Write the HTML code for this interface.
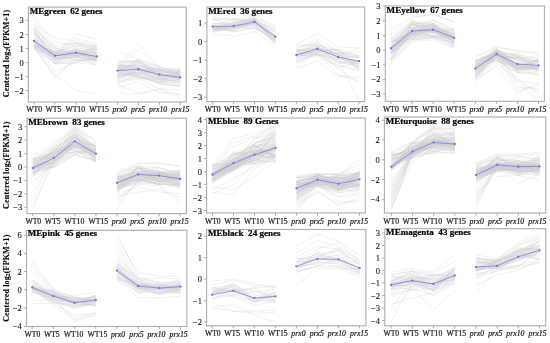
<!DOCTYPE html>
<html><head><meta charset="utf-8"><title>Module expression profiles</title>
<style>html,body{margin:0;padding:0;background:#fff}svg{display:block}text{font-family:"Liberation Serif","DejaVu Serif",serif;fill:#111;stroke:#111;stroke-width:.18px}.tk{font-size:8.5px;stroke-width:.1px}.xl{font-size:7.7px}.xi{font-style:italic;font-size:7.75px}.tt{font-size:9.05px;font-weight:bold;fill:#000;stroke:#000;stroke-width:.22px}.yl{font-size:8.05px;font-weight:bold;text-anchor:middle;fill:#000;letter-spacing:.16px;stroke-width:.12px}.g path{fill:none;stroke:#d0d0d0;stroke-width:.32;stroke-linejoin:round}.m{fill:none;stroke:#7a7af1;stroke-width:.8}.d{fill:#6e6ef2}.fr{fill:#fff;stroke:#adadad;stroke-width:1.1}.tm{stroke:#a2a2a2;stroke-width:.9}</style></head><body>
<svg width="550" height="343" viewBox="0 0 550 343">
<rect width="550" height="343" fill="#fff"/>
<g id="p0">
<clipPath id="c0"><rect x="28.4" y="7.1" width="157.8" height="94.9"/></clipPath>
<rect class="fr" x="28.4" y="7.1" width="157.8" height="94.9"/>
<g class="g" clip-path="url(#c0)">
<path d="M34.1,38.3 55.0,61.9 75.9,52.9 96.8,59.1M117.6,79.8 138.5,69.8 159.4,81.9 180.3,79.0"/>
<path d="M34.1,46.5 55.0,59.8 75.9,52.3 96.8,49.3M117.6,75.8 138.5,72.1 159.4,71.3 180.3,69.7"/>
<path d="M34.1,32.9 55.0,63.8 75.9,49.4 96.8,61.9M117.6,80.5 138.5,78.2 159.4,79.8 180.3,75.3"/>
<path d="M34.1,47.7 55.0,55.9 75.9,51.9 96.8,59.6M117.6,71.4 138.5,77.8 159.4,82.2 180.3,82.9"/>
<path d="M34.1,45.4 55.0,55.8 75.9,54.8 96.8,60.5M117.6,67.5 138.5,67.2 159.4,79.5 180.3,77.5"/>
<path d="M34.1,43.5 55.0,53.3 75.9,51.9 96.8,62.1M117.6,66.3 138.5,78.4 159.4,78.3 180.3,76.3"/>
<path d="M34.1,46.5 55.0,51.9 75.9,45.8 96.8,53.1M117.6,63.3 138.5,70.1 159.4,70.0 180.3,74.2"/>
<path d="M34.1,34.1 55.0,54.0 75.9,43.6 96.8,46.0M117.6,68.3 138.5,63.3 159.4,78.3 180.3,71.9"/>
<path d="M34.1,41.6 55.0,63.3 75.9,60.2 96.8,59.2M117.6,82.6 138.5,75.8 159.4,83.8 180.3,86.6"/>
<path d="M34.1,42.0 55.0,55.1 75.9,49.3 96.8,45.7M117.6,72.7 138.5,64.9 159.4,69.5 180.3,68.3"/>
<path d="M34.1,29.5 55.0,49.4 75.9,54.4 96.8,56.0M117.6,71.0 138.5,60.7 159.4,66.4 180.3,80.7"/>
<path d="M34.1,44.3 55.0,55.2 75.9,50.1 96.8,59.0M117.6,78.7 138.5,69.5 159.4,75.5 180.3,75.5"/>
<path d="M34.1,25.8 55.0,51.6 75.9,50.3 96.8,52.4M117.6,66.2 138.5,74.5 159.4,67.2 180.3,71.6"/>
<path d="M34.1,37.4 55.0,54.0 75.9,55.2 96.8,50.2M117.6,74.3 138.5,72.3 159.4,75.2 180.3,78.7"/>
<path d="M34.1,47.6 55.0,64.1 75.9,62.8 96.8,64.8M117.6,82.6 138.5,75.4 159.4,83.8 180.3,75.5"/>
<path d="M34.1,46.4 55.0,58.8 75.9,56.1 96.8,63.0M117.6,66.7 138.5,62.2 159.4,76.2 180.3,78.7"/>
<path d="M34.1,49.0 55.0,61.8 75.9,56.3 96.8,60.8M117.6,66.8 138.5,75.9 159.4,82.5 180.3,72.0"/>
<path d="M34.1,42.0 55.0,63.3 75.9,53.9 96.8,50.2M117.6,66.8 138.5,67.6 159.4,79.5 180.3,80.8"/>
<path d="M34.1,46.8 55.0,52.4 75.9,52.5 96.8,52.1M117.6,74.1 138.5,74.0 159.4,70.4 180.3,70.8"/>
<path d="M34.1,27.1 55.0,49.8 75.9,53.8 96.8,52.7M117.6,69.6 138.5,73.5 159.4,78.3 180.3,77.5"/>
<path d="M34.1,49.5 55.0,56.9 75.9,49.6 96.8,61.1M117.6,68.2 138.5,65.6 159.4,72.0 180.3,83.3"/>
<path d="M34.1,45.6 55.0,59.3 75.9,50.1 96.8,49.3M117.6,65.3 138.5,69.1 159.4,72.0 180.3,72.8"/>
<path d="M34.1,45.6 55.0,51.9 75.9,43.1 96.8,49.5M117.6,65.0 138.5,67.3 159.4,77.2 180.3,71.4"/>
<path d="M34.1,33.0 55.0,59.3 75.9,56.9 96.8,51.8M117.6,69.8 138.5,77.4 159.4,82.4 180.3,84.8"/>
<path d="M34.1,24.1 55.0,47.8 75.9,53.6 96.8,46.0M117.6,61.2 138.5,61.5 159.4,72.4 180.3,72.4"/>
<path d="M34.1,28.0 55.0,53.5 75.9,51.9 96.8,48.8M117.6,71.4 138.5,62.5 159.4,69.6 180.3,81.2"/>
<path d="M34.1,44.7 55.0,58.2 75.9,56.4 96.8,54.7M117.6,74.6 138.5,70.1 159.4,79.5 180.3,71.2"/>
<path d="M34.1,41.7 55.0,52.1 75.9,56.0 96.8,51.6M117.6,73.0 138.5,70.7 159.4,76.0 180.3,86.2"/>
<path d="M34.1,38.1 55.0,57.7 75.9,57.9 96.8,48.6M117.6,73.6 138.5,66.8 159.4,69.0 180.3,74.2"/>
<path d="M34.1,41.8 55.0,53.4 75.9,60.6 96.8,57.2M117.6,77.3 138.5,74.6 159.4,72.2 180.3,78.7"/>
<path d="M34.1,33.9 55.0,49.6 75.9,41.9 96.8,54.0M117.6,66.0 138.5,65.6 159.4,71.5 180.3,71.7"/>
<path d="M34.1,45.0 55.0,52.9 75.9,53.1 96.8,54.0M117.6,67.4 138.5,76.8 159.4,76.9 180.3,74.3"/>
<path d="M34.1,30.2 55.0,59.6 75.9,57.6 96.8,56.3M117.6,77.3 138.5,72.3 159.4,79.7 180.3,74.0"/>
<path d="M34.1,45.2 55.0,51.8 75.9,48.4 96.8,60.3M117.6,63.8 138.5,59.8 159.4,77.3 180.3,69.7"/>
<path d="M34.1,32.7 55.0,53.7 75.9,60.8 96.8,60.0M117.6,73.6 138.5,74.7 159.4,81.5 180.3,82.5"/>
<path d="M34.1,31.7 55.0,60.3 75.9,49.5 96.8,55.3M117.6,77.2 138.5,69.8 159.4,70.9 180.3,75.3"/>
<path d="M34.1,27.7 55.0,47.3 75.9,55.5 96.8,56.8M117.6,75.1 138.5,60.8 159.4,74.7 180.3,79.5"/>
<path d="M34.1,41.8 55.0,63.7 75.9,62.8 96.8,55.7M117.6,76.2 138.5,72.0 159.4,83.8 180.3,86.6"/>
<path d="M34.1,30.8 55.0,54.2 75.9,56.3 96.8,45.8M117.6,65.8 138.5,60.7 159.4,77.7 180.3,69.5"/>
<path d="M34.1,33.0 55.0,53.3 75.9,45.7 96.8,45.7M117.6,68.9 138.5,69.5 159.4,69.2 180.3,76.1"/>
<path d="M34.1,44.9 55.0,58.2 75.9,57.4 96.8,58.5M117.6,71.2 138.5,69.8 159.4,68.7 180.3,78.1"/>
<path d="M34.1,45.5 55.0,63.5 75.9,58.5 96.8,65.0M117.6,68.9 138.5,70.3 159.4,80.7 180.3,79.4"/>
<path d="M34.1,29.5 55.0,60.9 75.9,47.1 96.8,57.5M117.6,70.7 138.5,63.5 159.4,76.1 180.3,77.2"/>
<path d="M34.1,47.0 55.0,54.1 75.9,52.7 96.8,57.5M117.6,76.3 138.5,75.1 159.4,83.8 180.3,85.7"/>
<path d="M34.1,39.9 55.0,56.5 75.9,54.8 96.8,46.0M117.6,61.2 138.5,61.5 159.4,73.6 180.3,77.0"/>
<path d="M34.1,42.1 55.0,54.6 75.9,56.0 96.8,55.2M117.6,72.5 138.5,59.1 159.4,66.0 180.3,74.8"/>
<path d="M34.1,15.6 55.0,42.3 75.9,45.1 96.8,49.4M117.6,64.8 138.5,66.2 159.4,73.2 180.3,74.6"/>
<path d="M34.1,19.8 55.0,46.5 75.9,42.3 96.8,48.0M117.6,63.4 138.5,60.6 159.4,70.4 180.3,73.2"/>
<path d="M34.1,24.1 55.0,38.1 75.9,40.9 96.8,45.1M117.6,69.0 138.5,70.4 159.4,74.6 180.3,78.9"/>
<path d="M34.1,45.1 55.0,78.9 75.9,57.8 96.8,60.6M117.6,76.0 138.5,73.2 159.4,78.9 180.3,81.7"/>
<path d="M34.1,48.0 55.0,76.0 75.9,59.2 96.8,63.4M117.6,74.6 138.5,71.8 159.4,77.5 180.3,83.1"/>
<path d="M34.1,42.3 55.0,71.8 75.9,62.0 96.8,59.2M117.6,78.9 138.5,76.0 159.4,80.3 180.3,80.3"/>
<path d="M34.1,46.5 55.0,74.6 75.9,90.1 96.8,94.3M117.6,67.6 138.5,64.8 159.4,70.4 180.3,73.2"/>
<path d="M34.1,49.4 55.0,55.0 75.9,33.9 96.8,39.5M117.6,66.2 138.5,69.0 159.4,74.6 180.3,76.0"/>
<path d="M34.1,43.7 55.0,53.6 75.9,38.1 96.8,43.7M117.6,70.4 138.5,67.6 159.4,71.8 180.3,74.6"/>
<path d="M34.1,39.5 55.0,57.8 75.9,55.0 96.8,59.2M117.6,50.8 138.5,59.2 159.4,69.0 180.3,71.8"/>
<path d="M34.1,45.1 55.0,56.4 75.9,52.2 96.8,55.0M117.6,66.2 138.5,43.7 159.4,67.6 180.3,70.4"/>
<path d="M34.1,40.9 55.0,59.2 75.9,53.6 96.8,57.8M117.6,69.0 138.5,49.4 159.4,69.0 180.3,74.6"/>
<path d="M34.1,38.1 55.0,55.0 75.9,56.4 96.8,60.6M117.6,92.9 138.5,94.3 159.4,88.7 180.3,90.1"/>
<path d="M34.1,43.7 55.0,53.6 75.9,50.8 96.8,53.6M117.6,87.3 138.5,81.7 159.4,92.9 180.3,94.3"/>
<path d="M34.1,36.7 55.0,56.4 75.9,52.2 96.8,57.8M117.6,84.5 138.5,92.9 159.4,90.1 180.3,98.5"/>
<path d="M34.1,42.3 55.0,57.8 75.9,55.0 96.8,56.4M117.6,83.1 138.5,78.9 159.4,88.7 180.3,95.7"/>
</g>
<polyline class="m" points="34.1,40.9 55.0,55.8 75.9,52.7 96.8,56.5"/>
<polyline class="m" points="117.6,70.6 138.5,69.2 159.4,74.5 180.3,77.3"/>
<circle class="d" cx="34.1" cy="40.9" r="1.15"/>
<circle class="d" cx="55.0" cy="55.8" r="1.15"/>
<circle class="d" cx="75.9" cy="52.7" r="1.15"/>
<circle class="d" cx="96.8" cy="56.5" r="1.15"/>
<circle class="d" cx="117.6" cy="70.6" r="1.15"/>
<circle class="d" cx="138.5" cy="69.2" r="1.15"/>
<circle class="d" cx="159.4" cy="74.5" r="1.15"/>
<circle class="d" cx="180.3" cy="77.3" r="1.15"/>
<line class="tm" x1="25.8" x2="28.4" y1="20.4" y2="20.4"/>
<text class="tk" text-anchor="end" x="23.7" y="23.4">3</text>
<line class="tm" x1="25.8" x2="28.4" y1="34.5" y2="34.5"/>
<text class="tk" text-anchor="end" x="23.7" y="37.5">2</text>
<line class="tm" x1="25.8" x2="28.4" y1="48.5" y2="48.5"/>
<text class="tk" text-anchor="end" x="23.7" y="51.5">1</text>
<line class="tm" x1="25.8" x2="28.4" y1="62.5" y2="62.5"/>
<text class="tk" text-anchor="end" x="23.7" y="65.5">0</text>
<line class="tm" x1="25.8" x2="28.4" y1="76.5" y2="76.5"/>
<text class="tk" text-anchor="end" x="23.7" y="79.5">−1</text>
<line class="tm" x1="25.8" x2="28.4" y1="90.5" y2="90.5"/>
<text class="tk" text-anchor="end" x="23.7" y="93.5">−2</text>
<line class="tm" x1="34.1" x2="34.1" y1="102.0" y2="104.7"/>
<text class="xl" x="26.2" y="112.4">WT0</text>
<line class="tm" x1="55.0" x2="55.0" y1="102.0" y2="104.7"/>
<text class="xl" x="45.6" y="112.4">WT5</text>
<line class="tm" x1="75.9" x2="75.9" y1="102.0" y2="104.7"/>
<text class="xl" x="65.4" y="112.4">WT10</text>
<line class="tm" x1="96.8" x2="96.8" y1="102.0" y2="104.7"/>
<text class="xl" x="89.3" y="112.4">WT15</text>
<line class="tm" x1="117.6" x2="117.6" y1="102.0" y2="104.7"/>
<text class="xl xi" x="112.6" y="112.4">prx0</text>
<line class="tm" x1="138.5" x2="138.5" y1="102.0" y2="104.7"/>
<text class="xl xi" x="131.0" y="112.4">prx5</text>
<line class="tm" x1="159.4" x2="159.4" y1="102.0" y2="104.7"/>
<text class="xl xi" x="149.1" y="112.4">prx10</text>
<line class="tm" x1="180.3" x2="180.3" y1="102.0" y2="104.7"/>
<text class="xl xi" x="171.3" y="112.4">prx15</text>
<text class="tt" x="29.7" y="14.1" xml:space="preserve">MEgreen  62 genes</text>
<text class="yl" transform="translate(8.8,53.5) rotate(-90)">Centered log<tspan font-size="5.2" dy="1.3">2</tspan><tspan dy="-1.3">(FPKM+1)</tspan></text>
</g>
<g id="p1">
<clipPath id="c1"><rect x="206.9" y="7.0" width="157.8" height="94.6"/></clipPath>
<rect class="fr" x="206.9" y="7.0" width="157.8" height="94.6"/>
<g class="g" clip-path="url(#c1)">
<path d="M212.7,28.6 233.6,27.7 254.5,28.3 275.4,38.2M296.4,55.1 317.3,48.7 338.2,61.7 359.1,60.7"/>
<path d="M212.7,29.6 233.6,25.7 254.5,26.0 275.4,41.4M296.4,55.8 317.3,50.6 338.2,53.3 359.1,57.7"/>
<path d="M212.7,23.2 233.6,24.4 254.5,19.8 275.4,30.4M296.4,56.8 317.3,51.3 338.2,49.4 359.1,68.8"/>
<path d="M212.7,32.3 233.6,23.0 254.5,18.5 275.4,35.4M296.4,52.1 317.3,45.6 338.2,63.8 359.1,61.6"/>
<path d="M212.7,29.6 233.6,25.5 254.5,21.7 275.4,35.8M296.4,58.2 317.3,47.4 338.2,58.5 359.1,62.9"/>
<path d="M212.7,30.7 233.6,27.8 254.5,27.1 275.4,31.1M296.4,54.0 317.3,47.3 338.2,54.9 359.1,57.5"/>
<path d="M212.7,26.1 233.6,31.6 254.5,18.5 275.4,31.8M296.4,54.2 317.3,47.9 338.2,53.8 359.1,69.7"/>
<path d="M212.7,31.6 233.6,29.2 254.5,19.8 275.4,41.1M296.4,51.5 317.3,43.1 338.2,57.3 359.1,64.0"/>
<path d="M212.7,28.5 233.6,25.8 254.5,20.8 275.4,37.2M296.4,55.0 317.3,56.7 338.2,65.4 359.1,69.8"/>
<path d="M212.7,25.8 233.6,32.2 254.5,27.8 275.4,40.1M296.4,52.5 317.3,46.6 338.2,54.4 359.1,66.0"/>
<path d="M212.7,28.2 233.6,28.6 254.5,24.6 275.4,44.5M296.4,51.5 317.3,55.2 338.2,52.1 359.1,55.8"/>
<path d="M212.7,19.5 233.6,19.1 254.5,20.4 275.4,37.1M296.4,56.3 317.3,40.8 338.2,58.3 359.1,55.5"/>
<path d="M212.7,30.4 233.6,25.7 254.5,17.2 275.4,41.6M296.4,49.8 317.3,48.6 338.2,50.6 359.1,56.8"/>
<path d="M212.7,26.1 233.6,31.4 254.5,27.8 275.4,36.1M296.4,55.0 317.3,51.0 338.2,62.3 359.1,63.6"/>
<path d="M212.7,33.9 233.6,25.1 254.5,20.1 275.4,44.2M296.4,50.8 317.3,48.1 338.2,53.1 359.1,69.1"/>
<path d="M212.7,23.8 233.6,23.7 254.5,15.5 275.4,29.7M296.4,52.0 317.3,45.6 338.2,55.3 359.1,63.8"/>
<path d="M212.7,25.6 233.6,19.1 254.5,21.6 275.4,35.8M296.4,50.4 317.3,49.2 338.2,54.4 359.1,48.7"/>
<path d="M212.7,18.6 233.6,20.4 254.5,18.5 275.4,26.3M296.4,45.3 317.3,45.6 338.2,50.3 359.1,66.4"/>
<path d="M212.7,23.5 233.6,24.9 254.5,25.1 275.4,43.5M296.4,48.9 317.3,54.3 338.2,57.8 359.1,65.1"/>
<path d="M212.7,31.3 233.6,25.9 254.5,19.3 275.4,43.1M296.4,55.9 317.3,54.5 338.2,59.5 359.1,68.1"/>
<path d="M212.7,29.3 233.6,21.1 254.5,21.5 275.4,39.9M296.4,48.0 317.3,42.0 338.2,56.9 359.1,67.9"/>
<path d="M212.7,29.0 233.6,29.9 254.5,22.8 275.4,41.2M296.4,57.8 317.3,50.9 338.2,54.4 359.1,51.7"/>
<path d="M212.7,27.6 233.6,25.9 254.5,23.6 275.4,39.1M296.4,62.5 317.3,52.0 338.2,49.8 359.1,69.5"/>
<path d="M212.7,28.8 233.6,27.0 254.5,20.3 275.4,43.6M296.4,62.3 317.3,55.0 338.2,62.0 359.1,66.7"/>
<path d="M212.7,18.1 233.6,27.7 254.5,23.5 275.4,27.4M296.4,45.3 317.3,44.8 338.2,50.1 359.1,64.4"/>
<path d="M212.7,29.0 233.6,22.6 254.5,19.8 275.4,32.6M296.4,49.4 317.3,53.8 338.2,65.4 359.1,71.2"/>
<path d="M212.7,24.5 233.6,27.0 254.5,23.8 275.4,37.1M296.4,60.6 317.3,52.1 338.2,67.9 359.1,61.2"/>
<path d="M212.7,30.1 233.6,22.0 254.5,21.0 275.4,40.1M296.4,62.1 317.3,52.9 338.2,55.5 359.1,58.1"/>
<path d="M212.7,25.5 233.6,24.7 254.5,22.8 275.4,39.9M296.4,52.6 317.3,54.8 338.2,59.4 359.1,60.8"/>
<path d="M212.7,19.9 233.6,24.1 254.5,17.6 275.4,36.4M296.4,58.7 317.3,51.8 338.2,49.1 359.1,56.3"/>
<path d="M212.7,16.9 233.6,18.8 254.5,16.0 275.4,25.1M296.4,44.2 317.3,33.3 338.2,47.0 359.1,47.9"/>
<path d="M212.7,34.2 233.6,36.0 254.5,31.5 275.4,47.0M296.4,68.8 317.3,60.6 338.2,76.1 359.1,77.9"/>
<path d="M212.7,28.8 233.6,26.9 254.5,23.3 275.4,37.9M296.4,56.1 317.3,50.6 338.2,59.7 359.1,101.6"/>
<path d="M212.7,30.6 233.6,28.8 254.5,21.5 275.4,39.7M296.4,59.7 317.3,54.2 338.2,74.3 359.1,81.5"/>
<path d="M212.7,25.1 233.6,25.1 254.5,19.7 275.4,36.0M296.4,50.6 317.3,37.9 338.2,52.4 359.1,57.9"/>
<path d="M212.7,26.9 233.6,30.6 254.5,25.1 275.4,41.5M296.4,67.0 317.3,52.4 338.2,68.8 359.1,83.4"/>
</g>
<polyline class="m" points="212.7,26.6 233.6,26.2 254.5,22.0 275.4,36.8"/>
<polyline class="m" points="296.4,55.0 317.3,49.0 338.2,57.0 359.1,61.2"/>
<circle class="d" cx="212.7" cy="26.6" r="1.15"/>
<circle class="d" cx="233.6" cy="26.2" r="1.15"/>
<circle class="d" cx="254.5" cy="22.0" r="1.15"/>
<circle class="d" cx="275.4" cy="36.8" r="1.15"/>
<circle class="d" cx="296.4" cy="55.0" r="1.15"/>
<circle class="d" cx="317.3" cy="49.0" r="1.15"/>
<circle class="d" cx="338.2" cy="57.0" r="1.15"/>
<circle class="d" cx="359.1" cy="61.2" r="1.15"/>
<line class="tm" x1="204.3" x2="206.9" y1="23.2" y2="23.2"/>
<text class="tk" text-anchor="end" x="202.2" y="26.2">1</text>
<line class="tm" x1="204.3" x2="206.9" y1="41.7" y2="41.7"/>
<text class="tk" text-anchor="end" x="202.2" y="44.7">0</text>
<line class="tm" x1="204.3" x2="206.9" y1="60.2" y2="60.2"/>
<text class="tk" text-anchor="end" x="202.2" y="63.2">−1</text>
<line class="tm" x1="204.3" x2="206.9" y1="78.7" y2="78.7"/>
<text class="tk" text-anchor="end" x="202.2" y="81.7">−2</text>
<line class="tm" x1="204.3" x2="206.9" y1="97.2" y2="97.2"/>
<text class="tk" text-anchor="end" x="202.2" y="100.2">−3</text>
<line class="tm" x1="212.7" x2="212.7" y1="101.6" y2="104.3"/>
<text class="xl" x="204.7" y="112.4">WT0</text>
<line class="tm" x1="233.6" x2="233.6" y1="101.6" y2="104.3"/>
<text class="xl" x="224.1" y="112.4">WT5</text>
<line class="tm" x1="254.5" x2="254.5" y1="101.6" y2="104.3"/>
<text class="xl" x="243.9" y="112.4">WT10</text>
<line class="tm" x1="275.4" x2="275.4" y1="101.6" y2="104.3"/>
<text class="xl" x="267.8" y="112.4">WT15</text>
<line class="tm" x1="296.4" x2="296.4" y1="101.6" y2="104.3"/>
<text class="xl xi" x="291.1" y="112.4">prx0</text>
<line class="tm" x1="317.3" x2="317.3" y1="101.6" y2="104.3"/>
<text class="xl xi" x="309.5" y="112.4">prx5</text>
<line class="tm" x1="338.2" x2="338.2" y1="101.6" y2="104.3"/>
<text class="xl xi" x="327.6" y="112.4">prx10</text>
<line class="tm" x1="359.1" x2="359.1" y1="101.6" y2="104.3"/>
<text class="xl xi" x="349.8" y="112.4">prx15</text>
<text class="tt" x="208.2" y="13.8" xml:space="preserve">MEred  36 genes</text>
</g>
<g id="p2">
<clipPath id="c2"><rect x="385.3" y="6.0" width="159.1" height="95.3"/></clipPath>
<rect class="fr" x="385.3" y="6.0" width="159.1" height="95.3"/>
<g class="g" clip-path="url(#c2)">
<path d="M391.0,48.6 412.1,28.4 433.1,30.9 454.2,41.3M475.3,66.6 496.4,50.5 517.4,67.8 538.5,72.3"/>
<path d="M391.0,50.6 412.1,31.7 433.1,26.4 454.2,41.4M475.3,64.1 496.4,51.7 517.4,63.4 538.5,69.1"/>
<path d="M391.0,40.4 412.1,32.5 433.1,31.2 454.2,31.0M475.3,69.3 496.4,48.7 517.4,61.6 538.5,67.6"/>
<path d="M391.0,54.0 412.1,32.6 433.1,27.7 454.2,31.1M475.3,75.0 496.4,55.7 517.4,68.2 538.5,58.6"/>
<path d="M391.0,55.7 412.1,32.0 433.1,23.2 454.2,31.0M475.3,65.0 496.4,49.4 517.4,56.7 538.5,67.3"/>
<path d="M391.0,53.2 412.1,22.8 433.1,25.3 454.2,43.6M475.3,65.8 496.4,55.0 517.4,65.1 538.5,67.1"/>
<path d="M391.0,52.3 412.1,32.9 433.1,22.9 454.2,42.9M475.3,62.3 496.4,57.4 517.4,65.8 538.5,60.3"/>
<path d="M391.0,42.8 412.1,31.8 433.1,35.2 454.2,38.0M475.3,70.5 496.4,50.3 517.4,67.9 538.5,67.2"/>
<path d="M391.0,49.3 412.1,25.1 433.1,25.2 454.2,43.6M475.3,75.7 496.4,58.6 517.4,56.9 538.5,68.4"/>
<path d="M391.0,44.7 412.1,24.8 433.1,32.1 454.2,41.3M475.3,62.9 496.4,53.4 517.4,67.5 538.5,62.5"/>
<path d="M391.0,58.6 412.1,27.8 433.1,24.5 454.2,36.6M475.3,63.5 496.4,60.1 517.4,68.3 538.5,66.7"/>
<path d="M391.0,38.5 412.1,20.9 433.1,29.3 454.2,39.3M475.3,67.7 496.4,53.0 517.4,55.2 538.5,67.9"/>
<path d="M391.0,41.4 412.1,24.7 433.1,26.6 454.2,38.7M475.3,69.9 496.4,54.6 517.4,58.1 538.5,70.0"/>
<path d="M391.0,59.4 412.1,31.7 433.1,36.6 454.2,46.7M475.3,79.2 496.4,56.9 517.4,70.2 538.5,62.5"/>
<path d="M391.0,59.7 412.1,39.3 433.1,37.8 454.2,43.1M475.3,71.4 496.4,59.0 517.4,72.4 538.5,72.1"/>
<path d="M391.0,47.7 412.1,28.8 433.1,30.2 454.2,45.9M475.3,66.8 496.4,58.8 517.4,65.9 538.5,70.2"/>
<path d="M391.0,47.7 412.1,37.5 433.1,35.4 454.2,44.0M475.3,77.6 496.4,52.5 517.4,65.6 538.5,70.7"/>
<path d="M391.0,42.3 412.1,29.5 433.1,20.2 454.2,29.5M475.3,60.0 496.4,54.6 517.4,58.8 538.5,55.5"/>
<path d="M391.0,52.6 412.1,30.8 433.1,31.6 454.2,38.9M475.3,60.0 496.4,51.4 517.4,54.0 538.5,63.8"/>
<path d="M391.0,48.2 412.1,36.3 433.1,37.3 454.2,38.9M475.3,67.4 496.4,61.3 517.4,67.4 538.5,68.8"/>
<path d="M391.0,54.3 412.1,34.4 433.1,32.3 454.2,35.6M475.3,66.1 496.4,57.1 517.4,69.9 538.5,67.4"/>
<path d="M391.0,42.5 412.1,32.9 433.1,29.8 454.2,39.4M475.3,62.2 496.4,52.2 517.4,67.4 538.5,68.6"/>
<path d="M391.0,49.3 412.1,38.8 433.1,36.4 454.2,37.7M475.3,73.3 496.4,58.7 517.4,69.0 538.5,61.3"/>
<path d="M391.0,49.1 412.1,27.5 433.1,29.6 454.2,36.7M475.3,61.7 496.4,48.5 517.4,63.9 538.5,67.6"/>
<path d="M391.0,57.8 412.1,24.5 433.1,30.9 454.2,32.9M475.3,70.5 496.4,50.9 517.4,64.8 538.5,70.5"/>
<path d="M391.0,59.6 412.1,32.1 433.1,29.5 454.2,33.3M475.3,77.5 496.4,54.3 517.4,67.4 538.5,67.2"/>
<path d="M391.0,46.4 412.1,22.2 433.1,33.4 454.2,36.4M475.3,63.3 496.4,49.2 517.4,66.8 538.5,69.4"/>
<path d="M391.0,39.0 412.1,20.8 433.1,28.1 454.2,42.3M475.3,61.2 496.4,54.1 517.4,55.8 538.5,61.6"/>
<path d="M391.0,42.8 412.1,34.0 433.1,30.2 454.2,31.4M475.3,63.5 496.4,57.1 517.4,67.1 538.5,66.1"/>
<path d="M391.0,49.9 412.1,33.9 433.1,35.7 454.2,42.7M475.3,67.0 496.4,51.6 517.4,71.3 538.5,65.9"/>
<path d="M391.0,42.7 412.1,36.0 433.1,28.2 454.2,36.9M475.3,66.9 496.4,56.3 517.4,65.1 538.5,64.1"/>
<path d="M391.0,50.7 412.1,29.3 433.1,31.0 454.2,39.4M475.3,77.3 496.4,53.6 517.4,64.9 538.5,70.0"/>
<path d="M391.0,48.6 412.1,34.9 433.1,29.7 454.2,42.8M475.3,74.3 496.4,54.7 517.4,69.0 538.5,65.8"/>
<path d="M391.0,54.3 412.1,39.3 433.1,32.1 454.2,46.7M475.3,70.2 496.4,54.8 517.4,68.2 538.5,74.7"/>
<path d="M391.0,44.0 412.1,38.1 433.1,27.2 454.2,32.8M475.3,68.0 496.4,53.1 517.4,70.4 538.5,60.8"/>
<path d="M391.0,48.6 412.1,23.4 433.1,23.6 454.2,42.5M475.3,64.8 496.4,50.4 517.4,69.8 538.5,67.6"/>
<path d="M391.0,41.8 412.1,33.9 433.1,25.0 454.2,42.7M475.3,68.5 496.4,50.4 517.4,67.8 538.5,68.8"/>
<path d="M391.0,50.3 412.1,34.9 433.1,37.0 454.2,43.8M475.3,76.0 496.4,51.3 517.4,63.0 538.5,61.0"/>
<path d="M391.0,52.4 412.1,27.8 433.1,25.3 454.2,37.4M475.3,61.4 496.4,52.3 517.4,60.2 538.5,57.0"/>
<path d="M391.0,50.2 412.1,20.1 433.1,23.5 454.2,34.8M475.3,60.7 496.4,53.7 517.4,54.0 538.5,59.7"/>
<path d="M391.0,53.2 412.1,37.9 433.1,29.1 454.2,46.7M475.3,67.1 496.4,59.2 517.4,65.0 538.5,61.1"/>
<path d="M391.0,42.8 412.1,24.0 433.1,28.8 454.2,41.2M475.3,72.2 496.4,55.3 517.4,58.3 538.5,62.6"/>
<path d="M391.0,55.7 412.1,35.0 433.1,27.9 454.2,44.9M475.3,77.3 496.4,56.2 517.4,69.6 538.5,67.9"/>
<path d="M391.0,46.2 412.1,34.4 433.1,27.3 454.2,37.5M475.3,74.0 496.4,49.9 517.4,66.9 538.5,69.9"/>
<path d="M391.0,51.2 412.1,24.5 433.1,20.6 454.2,29.3M475.3,66.6 496.4,54.1 517.4,67.2 538.5,59.3"/>
<path d="M391.0,48.7 412.1,33.9 433.1,25.7 454.2,36.6M475.3,75.5 496.4,52.1 517.4,72.1 538.5,67.3"/>
<path d="M391.0,51.3 412.1,35.3 433.1,36.1 454.2,34.4M475.3,77.8 496.4,54.4 517.4,58.2 538.5,71.5"/>
<path d="M391.0,46.9 412.1,27.3 433.1,23.9 454.2,41.2M475.3,70.4 496.4,55.5 517.4,68.9 538.5,58.1"/>
<path d="M391.0,39.6 412.1,23.2 433.1,32.8 454.2,28.3M475.3,62.0 496.4,52.3 517.4,56.4 538.5,62.3"/>
<path d="M391.0,53.0 412.1,36.8 433.1,31.6 454.2,33.6M475.3,65.8 496.4,51.0 517.4,60.5 538.5,68.6"/>
<path d="M391.0,46.0 412.1,30.7 433.1,24.1 454.2,36.0M475.3,71.0 496.4,52.2 517.4,55.4 538.5,68.2"/>
<path d="M391.0,52.3 412.1,34.2 433.1,25.7 454.2,30.3M475.3,65.0 496.4,55.9 517.4,57.7 538.5,67.5"/>
<path d="M391.0,53.6 412.1,24.5 433.1,28.1 454.2,35.0M475.3,66.7 496.4,50.1 517.4,64.8 538.5,60.5"/>
<path d="M391.0,51.7 412.1,29.4 433.1,30.3 454.2,42.1M475.3,75.4 496.4,54.2 517.4,71.1 538.5,60.9"/>
<path d="M391.0,60.2 412.1,39.3 433.1,37.8 454.2,36.6M475.3,77.0 496.4,61.3 517.4,72.4 538.5,74.7"/>
<path d="M391.0,46.7 412.1,28.7 433.1,36.4 454.2,37.8M475.3,72.4 496.4,52.2 517.4,60.6 538.5,60.8"/>
<path d="M391.0,60.2 412.1,29.2 433.1,27.3 454.2,34.7M475.3,79.2 496.4,60.2 517.4,72.4 538.5,74.7"/>
<path d="M391.0,42.8 412.1,22.1 433.1,24.8 454.2,37.9M475.3,71.9 496.4,56.4 517.4,56.9 538.5,66.7"/>
<path d="M391.0,29.8 412.1,16.6 433.1,15.1 454.2,21.0M475.3,57.8 496.4,46.0 517.4,51.9 538.5,53.3"/>
<path d="M391.0,34.2 412.1,18.1 433.1,13.6 454.2,22.5M475.3,56.3 496.4,47.5 517.4,50.4 538.5,52.6"/>
<path d="M391.0,64.4 412.1,41.6 433.1,40.1 454.2,48.9M475.3,82.0 496.4,63.6 517.4,79.8 538.5,84.2"/>
<path d="M391.0,62.2 412.1,40.1 433.1,38.6 454.2,47.5M475.3,79.8 496.4,66.6 517.4,93.0 538.5,82.7"/>
<path d="M391.0,50.4 412.1,32.8 433.1,31.3 454.2,38.6M475.3,69.5 496.4,54.8 517.4,87.2 538.5,88.6"/>
<path d="M391.0,47.5 412.1,29.8 433.1,28.4 454.2,37.2M475.3,66.6 496.4,53.3 517.4,82.7 538.5,100.4"/>
<path d="M391.0,46.0 412.1,34.2 433.1,32.8 454.2,40.1M475.3,71.0 496.4,56.3 517.4,78.3 538.5,94.5"/>
<path d="M391.0,48.9 412.1,28.4 433.1,26.9 454.2,35.7M475.3,65.1 496.4,51.9 517.4,81.3 538.5,91.6"/>
<path d="M391.0,53.3 412.1,35.7 433.1,29.8 454.2,41.6M475.3,72.4 496.4,57.8 517.4,90.1 538.5,85.7"/>
</g>
<polyline class="m" points="391.0,48.3 412.1,31.1 433.1,29.7 454.2,37.8"/>
<polyline class="m" points="475.3,68.6 496.4,54.2 517.4,64.1 538.5,65.4"/>
<circle class="d" cx="391.0" cy="48.3" r="1.15"/>
<circle class="d" cx="412.1" cy="31.1" r="1.15"/>
<circle class="d" cx="433.1" cy="29.7" r="1.15"/>
<circle class="d" cx="454.2" cy="37.8" r="1.15"/>
<circle class="d" cx="475.3" cy="68.6" r="1.15"/>
<circle class="d" cx="496.4" cy="54.2" r="1.15"/>
<circle class="d" cx="517.4" cy="64.1" r="1.15"/>
<circle class="d" cx="538.5" cy="65.4" r="1.15"/>
<line class="tm" x1="382.7" x2="385.3" y1="6.1" y2="6.1"/>
<text class="tk" text-anchor="end" x="380.6" y="9.1">3</text>
<line class="tm" x1="382.7" x2="385.3" y1="20.8" y2="20.8"/>
<text class="tk" text-anchor="end" x="380.6" y="23.8">2</text>
<line class="tm" x1="382.7" x2="385.3" y1="35.5" y2="35.5"/>
<text class="tk" text-anchor="end" x="380.6" y="38.5">1</text>
<line class="tm" x1="382.7" x2="385.3" y1="50.1" y2="50.1"/>
<text class="tk" text-anchor="end" x="380.6" y="53.1">0</text>
<line class="tm" x1="382.7" x2="385.3" y1="64.8" y2="64.8"/>
<text class="tk" text-anchor="end" x="380.6" y="67.8">−1</text>
<line class="tm" x1="382.7" x2="385.3" y1="79.4" y2="79.4"/>
<text class="tk" text-anchor="end" x="380.6" y="82.4">−2</text>
<line class="tm" x1="382.7" x2="385.3" y1="94.1" y2="94.1"/>
<text class="tk" text-anchor="end" x="380.6" y="97.1">−3</text>
<line class="tm" x1="391.0" x2="391.0" y1="101.3" y2="104.0"/>
<text class="xl" x="383.1" y="112.3">WT0</text>
<line class="tm" x1="412.1" x2="412.1" y1="101.3" y2="104.0"/>
<text class="xl" x="402.5" y="112.3">WT5</text>
<line class="tm" x1="433.1" x2="433.1" y1="101.3" y2="104.0"/>
<text class="xl" x="422.3" y="112.3">WT10</text>
<line class="tm" x1="454.2" x2="454.2" y1="101.3" y2="104.0"/>
<text class="xl" x="446.2" y="112.3">WT15</text>
<line class="tm" x1="475.3" x2="475.3" y1="101.3" y2="104.0"/>
<text class="xl xi" x="469.5" y="112.3">prx0</text>
<line class="tm" x1="496.4" x2="496.4" y1="101.3" y2="104.0"/>
<text class="xl xi" x="487.9" y="112.3">prx5</text>
<line class="tm" x1="517.4" x2="517.4" y1="101.3" y2="104.0"/>
<text class="xl xi" x="506.0" y="112.3">prx10</text>
<line class="tm" x1="538.5" x2="538.5" y1="101.3" y2="104.0"/>
<text class="xl xi" x="528.2" y="112.3">prx15</text>
<text class="tt" x="386.6" y="12.8" xml:space="preserve">MEyellow  67 genes</text>
</g>
<g id="p3">
<clipPath id="c3"><rect x="27.0" y="118.2" width="159.4" height="95.4"/></clipPath>
<rect class="fr" x="27.0" y="118.2" width="159.4" height="95.4"/>
<g class="g" clip-path="url(#c3)">
<path d="M32.7,174.5 53.8,163.4 74.8,154.5 95.9,160.7M117.0,190.8 138.1,175.4 159.1,181.7 180.2,186.2"/>
<path d="M32.7,159.7 53.8,152.3 74.8,146.5 95.9,151.5M117.0,180.3 138.1,168.0 159.1,174.9 180.2,173.1"/>
<path d="M32.7,168.3 53.8,163.0 74.8,134.4 95.9,159.7M117.0,178.6 138.1,179.8 159.1,183.6 180.2,184.4"/>
<path d="M32.7,174.3 53.8,157.5 74.8,140.7 95.9,148.2M117.0,187.2 138.1,174.0 159.1,177.3 180.2,173.8"/>
<path d="M32.7,171.5 53.8,162.7 74.8,137.6 95.9,154.1M117.0,189.5 138.1,173.0 159.1,182.1 180.2,175.4"/>
<path d="M32.7,167.9 53.8,161.8 74.8,145.7 95.9,156.5M117.0,178.4 138.1,181.9 159.1,172.1 180.2,188.1"/>
<path d="M32.7,176.4 53.8,166.3 74.8,139.5 95.9,157.9M117.0,189.8 138.1,173.6 159.1,184.1 180.2,184.5"/>
<path d="M32.7,169.0 53.8,160.5 74.8,150.9 95.9,160.1M117.0,193.0 138.1,174.0 159.1,177.9 180.2,180.1"/>
<path d="M32.7,173.5 53.8,159.8 74.8,136.7 95.9,153.5M117.0,189.7 138.1,175.8 159.1,171.6 180.2,184.0"/>
<path d="M32.7,164.3 53.8,151.3 74.8,147.3 95.9,157.5M117.0,185.9 138.1,176.1 159.1,174.7 180.2,183.3"/>
<path d="M32.7,168.4 53.8,160.4 74.8,127.3 95.9,147.5M117.0,186.7 138.1,166.5 159.1,179.3 180.2,178.5"/>
<path d="M32.7,159.7 53.8,153.4 74.8,140.7 95.9,146.0M117.0,183.7 138.1,173.8 159.1,172.8 180.2,180.9"/>
<path d="M32.7,170.0 53.8,153.7 74.8,137.8 95.9,154.2M117.0,181.3 138.1,175.4 159.1,181.3 180.2,178.0"/>
<path d="M32.7,165.9 53.8,162.9 74.8,145.2 95.9,153.9M117.0,188.2 138.1,182.0 159.1,176.3 180.2,177.3"/>
<path d="M32.7,161.5 53.8,151.7 74.8,129.5 95.9,147.9M117.0,177.8 138.1,172.7 159.1,175.9 180.2,174.7"/>
<path d="M32.7,161.6 53.8,151.7 74.8,134.8 95.9,154.9M117.0,181.5 138.1,172.9 159.1,172.1 180.2,178.0"/>
<path d="M32.7,163.9 53.8,148.9 74.8,145.5 95.9,149.3M117.0,176.6 138.1,174.4 159.1,174.4 180.2,170.8"/>
<path d="M32.7,169.6 53.8,149.4 74.8,126.9 95.9,149.6M117.0,185.5 138.1,170.5 159.1,172.2 180.2,172.7"/>
<path d="M32.7,167.1 53.8,154.7 74.8,132.7 95.9,152.4M117.0,183.3 138.1,167.9 159.1,179.1 180.2,175.6"/>
<path d="M32.7,176.7 53.8,154.1 74.8,149.5 95.9,162.1M117.0,190.4 138.1,179.4 159.1,184.9 180.2,184.2"/>
<path d="M32.7,166.3 53.8,151.3 74.8,140.2 95.9,154.1M117.0,184.0 138.1,168.7 159.1,167.5 180.2,175.8"/>
<path d="M32.7,168.7 53.8,161.3 74.8,147.6 95.9,148.1M117.0,176.9 138.1,171.8 159.1,175.3 180.2,177.2"/>
<path d="M32.7,167.2 53.8,147.2 74.8,137.1 95.9,146.0M117.0,172.7 138.1,166.1 159.1,171.8 180.2,177.1"/>
<path d="M32.7,164.6 53.8,161.6 74.8,135.6 95.9,158.0M117.0,186.3 138.1,179.3 159.1,178.1 180.2,185.3"/>
<path d="M32.7,175.3 53.8,154.8 74.8,146.5 95.9,157.4M117.0,186.4 138.1,175.1 159.1,177.2 180.2,177.5"/>
<path d="M32.7,163.3 53.8,153.7 74.8,152.4 95.9,150.0M117.0,177.9 138.1,172.0 159.1,182.3 180.2,175.7"/>
<path d="M32.7,168.4 53.8,167.5 74.8,154.5 95.9,148.8M117.0,182.8 138.1,180.1 159.1,183.6 180.2,186.9"/>
<path d="M32.7,169.8 53.8,162.7 74.8,131.5 95.9,148.4M117.0,187.5 138.1,168.9 159.1,173.9 180.2,174.6"/>
<path d="M32.7,160.8 53.8,147.2 74.8,127.5 95.9,143.3M117.0,182.4 138.1,167.7 159.1,171.1 180.2,171.1"/>
<path d="M32.7,172.4 53.8,167.0 74.8,154.3 95.9,162.1M117.0,188.7 138.1,183.6 159.1,181.4 180.2,189.0"/>
<path d="M32.7,166.1 53.8,155.5 74.8,137.2 95.9,145.4M117.0,188.3 138.1,168.1 159.1,174.2 180.2,176.0"/>
<path d="M32.7,172.4 53.8,162.0 74.8,135.2 95.9,161.7M117.0,183.6 138.1,175.1 159.1,184.9 180.2,180.1"/>
<path d="M32.7,169.9 53.8,156.0 74.8,151.3 95.9,151.0M117.0,187.6 138.1,179.1 159.1,174.7 180.2,189.0"/>
<path d="M32.7,171.0 53.8,152.8 74.8,145.2 95.9,154.7M117.0,183.3 138.1,171.6 159.1,180.6 180.2,180.8"/>
<path d="M32.7,172.7 53.8,161.1 74.8,140.0 95.9,159.9M117.0,181.8 138.1,179.5 159.1,179.4 180.2,186.6"/>
<path d="M32.7,166.2 53.8,153.5 74.8,145.3 95.9,156.4M117.0,186.3 138.1,173.6 159.1,174.3 180.2,175.3"/>
<path d="M32.7,158.7 53.8,152.3 74.8,144.6 95.9,152.1M117.0,185.9 138.1,174.6 159.1,167.5 180.2,173.4"/>
<path d="M32.7,164.7 53.8,151.9 74.8,130.4 95.9,150.7M117.0,179.8 138.1,171.8 159.1,172.2 180.2,176.6"/>
<path d="M32.7,166.5 53.8,159.4 74.8,136.7 95.9,159.7M117.0,188.7 138.1,181.8 159.1,172.9 180.2,174.0"/>
<path d="M32.7,167.6 53.8,161.7 74.8,136.8 95.9,151.0M117.0,183.7 138.1,179.6 159.1,180.3 180.2,182.0"/>
<path d="M32.7,167.3 53.8,152.1 74.8,152.2 95.9,153.9M117.0,191.5 138.1,181.0 159.1,172.8 180.2,179.1"/>
<path d="M32.7,159.3 53.8,155.8 74.8,147.6 95.9,152.6M117.0,178.4 138.1,166.4 159.1,167.5 180.2,176.7"/>
<path d="M32.7,167.1 53.8,163.4 74.8,150.1 95.9,161.1M117.0,191.9 138.1,173.0 159.1,182.2 180.2,173.6"/>
<path d="M32.7,173.1 53.8,151.0 74.8,148.0 95.9,159.4M117.0,178.6 138.1,177.4 159.1,172.1 180.2,183.1"/>
<path d="M32.7,160.4 53.8,147.2 74.8,129.2 95.9,155.1M117.0,175.8 138.1,167.7 159.1,172.2 180.2,170.1"/>
<path d="M32.7,170.1 53.8,148.5 74.8,134.2 95.9,158.8M117.0,188.9 138.1,171.2 159.1,170.3 180.2,183.9"/>
<path d="M32.7,174.2 53.8,153.9 74.8,144.1 95.9,161.0M117.0,186.7 138.1,175.0 159.1,178.3 180.2,178.1"/>
<path d="M32.7,169.1 53.8,148.2 74.8,138.1 95.9,146.7M117.0,176.2 138.1,171.8 159.1,173.5 180.2,171.0"/>
<path d="M32.7,162.5 53.8,156.2 74.8,144.0 95.9,143.3M117.0,174.6 138.1,166.1 159.1,173.9 180.2,173.1"/>
<path d="M32.7,162.8 53.8,154.3 74.8,141.7 95.9,157.7M117.0,185.7 138.1,170.9 159.1,179.1 180.2,178.0"/>
<path d="M32.7,168.4 53.8,166.1 74.8,154.5 95.9,161.1M117.0,189.2 138.1,177.8 159.1,175.9 180.2,178.1"/>
<path d="M32.7,176.9 53.8,156.5 74.8,139.9 95.9,151.7M117.0,185.5 138.1,181.1 159.1,174.3 180.2,178.1"/>
<path d="M32.7,172.5 53.8,166.7 74.8,143.8 95.9,151.6M117.0,190.2 138.1,173.4 159.1,172.4 180.2,185.7"/>
<path d="M32.7,171.7 53.8,165.7 74.8,151.0 95.9,153.3M117.0,181.8 138.1,178.2 159.1,184.8 180.2,177.8"/>
<path d="M32.7,166.8 53.8,164.6 74.8,143.5 95.9,150.2M117.0,179.6 138.1,176.6 159.1,178.6 180.2,180.3"/>
<path d="M32.7,171.8 53.8,153.8 74.8,143.3 95.9,151.9M117.0,183.6 138.1,173.6 159.1,180.1 180.2,185.3"/>
<path d="M32.7,159.1 53.8,158.1 74.8,147.1 95.9,149.7M117.0,176.4 138.1,177.7 159.1,173.0 180.2,179.6"/>
<path d="M32.7,175.0 53.8,150.4 74.8,134.0 95.9,154.4M117.0,182.4 138.1,178.4 159.1,172.6 180.2,180.7"/>
<path d="M32.7,161.6 53.8,153.6 74.8,134.3 95.9,146.2M117.0,186.8 138.1,181.1 159.1,180.1 180.2,184.0"/>
<path d="M32.7,166.5 53.8,150.9 74.8,141.2 95.9,145.6M117.0,175.5 138.1,179.9 159.1,173.8 180.2,179.7"/>
<path d="M32.7,172.9 53.8,149.8 74.8,145.7 95.9,152.2M117.0,180.1 138.1,168.1 159.1,173.2 180.2,180.1"/>
<path d="M32.7,162.9 53.8,151.5 74.8,149.3 95.9,161.2M117.0,188.4 138.1,178.0 159.1,171.9 180.2,174.8"/>
<path d="M32.7,162.6 53.8,164.2 74.8,134.1 95.9,149.7M117.0,179.9 138.1,167.7 159.1,181.6 180.2,183.9"/>
<path d="M32.7,165.3 53.8,160.8 74.8,139.0 95.9,149.3M117.0,188.8 138.1,176.7 159.1,179.0 180.2,184.6"/>
<path d="M32.7,173.2 53.8,165.0 74.8,140.0 95.9,161.6M117.0,181.2 138.1,180.4 159.1,184.0 180.2,174.6"/>
<path d="M32.7,171.7 53.8,150.5 74.8,132.8 95.9,147.2M117.0,188.3 138.1,175.0 159.1,181.3 180.2,172.8"/>
<path d="M32.7,166.7 53.8,158.2 74.8,130.8 95.9,151.7M117.0,178.5 138.1,177.4 159.1,177.6 180.2,183.6"/>
<path d="M32.7,168.3 53.8,160.5 74.8,153.2 95.9,151.3M117.0,190.1 138.1,178.9 159.1,183.9 180.2,186.0"/>
<path d="M32.7,171.4 53.8,156.6 74.8,143.3 95.9,145.7M117.0,187.5 138.1,167.1 159.1,180.7 180.2,172.2"/>
<path d="M32.7,209.5 53.8,160.1 74.8,142.8 95.9,154.8M117.0,180.2 138.1,173.5 159.1,174.8 180.2,177.5"/>
<path d="M32.7,204.2 53.8,162.8 74.8,145.4 95.9,156.1M117.0,184.2 138.1,174.8 159.1,176.1 180.2,180.2"/>
<path d="M32.7,197.5 53.8,157.5 74.8,140.1 95.9,152.1M117.0,181.5 138.1,172.1 159.1,173.5 180.2,178.8"/>
<path d="M32.7,190.8 53.8,161.5 74.8,144.1 95.9,153.5M117.0,185.5 138.1,176.1 159.1,177.5 180.2,181.5"/>
<path d="M32.7,185.5 53.8,158.8 74.8,146.8 95.9,157.5M117.0,178.8 138.1,170.8 159.1,174.8 180.2,176.1"/>
<path d="M32.7,181.5 53.8,164.1 74.8,141.4 95.9,154.8M117.0,182.8 138.1,173.5 159.1,178.8 180.2,182.8"/>
<path d="M32.7,155.5 53.8,143.4 74.8,125.4 95.9,140.1M117.0,171.5 138.1,162.8 159.1,162.8 180.2,166.1"/>
<path d="M32.7,158.8 53.8,145.4 74.8,126.8 95.9,141.4M117.0,173.5 138.1,164.1 159.1,163.5 180.2,166.8"/>
<path d="M32.7,166.8 53.8,157.5 74.8,141.4 95.9,153.5M117.0,209.5 138.1,178.8 159.1,177.5 180.2,180.2"/>
<path d="M32.7,169.5 53.8,160.1 74.8,144.1 95.9,156.1M117.0,204.2 138.1,180.2 159.1,180.2 180.2,184.2"/>
<path d="M32.7,165.5 53.8,156.1 74.8,138.8 95.9,152.1M117.0,200.2 138.1,184.2 159.1,185.5 180.2,205.5"/>
<path d="M32.7,168.1 53.8,158.8 74.8,142.8 95.9,154.8M117.0,196.2 138.1,192.2 159.1,189.5 180.2,197.5"/>
<path d="M32.7,164.1 53.8,154.8 74.8,137.4 95.9,150.8M117.0,193.5 138.1,186.8 159.1,192.2 180.2,193.5"/>
<path d="M32.7,166.8 53.8,158.8 74.8,145.4 95.9,157.5M117.0,198.8 138.1,182.8 159.1,184.2 180.2,201.5"/>
</g>
<polyline class="m" points="32.7,168.1 53.8,158.0 74.8,141.4 95.9,153.7"/>
<polyline class="m" points="117.0,182.8 138.1,174.4 159.1,175.7 180.2,178.9"/>
<circle class="d" cx="32.7" cy="168.1" r="1.15"/>
<circle class="d" cx="53.8" cy="158.0" r="1.15"/>
<circle class="d" cx="74.8" cy="141.4" r="1.15"/>
<circle class="d" cx="95.9" cy="153.7" r="1.15"/>
<circle class="d" cx="117.0" cy="182.8" r="1.15"/>
<circle class="d" cx="138.1" cy="174.4" r="1.15"/>
<circle class="d" cx="159.1" cy="175.7" r="1.15"/>
<circle class="d" cx="180.2" cy="178.9" r="1.15"/>
<line class="tm" x1="24.4" x2="27.0" y1="126.7" y2="126.7"/>
<text class="tk" text-anchor="end" x="22.3" y="129.7">3</text>
<line class="tm" x1="24.4" x2="27.0" y1="140.1" y2="140.1"/>
<text class="tk" text-anchor="end" x="22.3" y="143.1">2</text>
<line class="tm" x1="24.4" x2="27.0" y1="153.6" y2="153.6"/>
<text class="tk" text-anchor="end" x="22.3" y="156.6">1</text>
<line class="tm" x1="24.4" x2="27.0" y1="167.0" y2="167.0"/>
<text class="tk" text-anchor="end" x="22.3" y="170.0">0</text>
<line class="tm" x1="24.4" x2="27.0" y1="180.4" y2="180.4"/>
<text class="tk" text-anchor="end" x="22.3" y="183.4">−1</text>
<line class="tm" x1="24.4" x2="27.0" y1="193.9" y2="193.9"/>
<text class="tk" text-anchor="end" x="22.3" y="196.9">−2</text>
<line class="tm" x1="24.4" x2="27.0" y1="207.3" y2="207.3"/>
<text class="tk" text-anchor="end" x="22.3" y="210.3">−3</text>
<line class="tm" x1="32.7" x2="32.7" y1="213.6" y2="216.3"/>
<text class="xl" x="25.4" y="224.0">WT0</text>
<line class="tm" x1="53.8" x2="53.8" y1="213.6" y2="216.3"/>
<text class="xl" x="44.8" y="224.0">WT5</text>
<line class="tm" x1="74.8" x2="74.8" y1="213.6" y2="216.3"/>
<text class="xl" x="64.6" y="224.0">WT10</text>
<line class="tm" x1="95.9" x2="95.9" y1="213.6" y2="216.3"/>
<text class="xl" x="88.5" y="224.0">WT15</text>
<line class="tm" x1="117.0" x2="117.0" y1="213.6" y2="216.3"/>
<text class="xl xi" x="111.8" y="224.0">prx0</text>
<line class="tm" x1="138.1" x2="138.1" y1="213.6" y2="216.3"/>
<text class="xl xi" x="130.2" y="224.0">prx5</text>
<line class="tm" x1="159.1" x2="159.1" y1="213.6" y2="216.3"/>
<text class="xl xi" x="148.3" y="224.0">prx10</text>
<line class="tm" x1="180.2" x2="180.2" y1="213.6" y2="216.3"/>
<text class="xl xi" x="170.5" y="224.0">prx15</text>
<text class="tt" x="28.3" y="125.1" xml:space="preserve">MEbrown  83 genes</text>
<text class="yl" transform="translate(8.8,165.2) rotate(-90)">Centered log<tspan font-size="5.2" dy="1.3">2</tspan><tspan dy="-1.3">(FPKM+1)</tspan></text>
</g>
<g id="p4">
<clipPath id="c4"><rect x="206.6" y="118.0" width="158.7" height="94.9"/></clipPath>
<rect class="fr" x="206.6" y="118.0" width="158.7" height="94.9"/>
<g class="g" clip-path="url(#c4)">
<path d="M212.5,174.3 233.5,169.2 254.5,157.6 275.5,155.8M296.5,196.0 317.5,184.2 338.5,187.8 359.5,173.8"/>
<path d="M212.5,180.5 233.5,166.2 254.5,145.0 275.5,157.7M296.5,184.4 317.5,181.8 338.5,176.9 359.5,187.8"/>
<path d="M212.5,178.9 233.5,169.2 254.5,144.9 275.5,145.1M296.5,193.4 317.5,179.7 338.5,176.9 359.5,183.1"/>
<path d="M212.5,176.0 233.5,170.4 254.5,163.0 275.5,144.5M296.5,187.5 317.5,184.4 338.5,192.1 359.5,189.3"/>
<path d="M212.5,180.3 233.5,169.6 254.5,155.8 275.5,146.7M296.5,185.9 317.5,180.6 338.5,190.5 359.5,189.9"/>
<path d="M212.5,173.3 233.5,166.4 254.5,152.7 275.5,160.8M296.5,185.4 317.5,182.8 338.5,180.9 359.5,175.7"/>
<path d="M212.5,168.8 233.5,164.0 254.5,146.3 275.5,153.7M296.5,195.2 317.5,176.8 338.5,186.2 359.5,185.7"/>
<path d="M212.5,176.5 233.5,161.3 254.5,163.1 275.5,147.2M296.5,189.4 317.5,179.5 338.5,189.2 359.5,175.9"/>
<path d="M212.5,175.0 233.5,156.1 254.5,153.8 275.5,135.2M296.5,194.0 317.5,174.5 338.5,174.9 359.5,176.9"/>
<path d="M212.5,179.5 233.5,167.6 254.5,160.0 275.5,162.0M296.5,186.3 317.5,186.0 338.5,192.9 359.5,190.5"/>
<path d="M212.5,181.4 233.5,168.8 254.5,149.8 275.5,154.6M296.5,197.9 317.5,178.7 338.5,182.7 359.5,178.9"/>
<path d="M212.5,166.0 233.5,163.8 254.5,138.7 275.5,130.2M296.5,190.4 317.5,179.9 338.5,178.8 359.5,173.7"/>
<path d="M212.5,176.3 233.5,168.4 254.5,152.9 275.5,137.2M296.5,195.7 317.5,179.1 338.5,180.5 359.5,185.4"/>
<path d="M212.5,168.1 233.5,152.8 254.5,155.0 275.5,147.3M296.5,180.6 317.5,178.5 338.5,183.9 359.5,170.8"/>
<path d="M212.5,178.0 233.5,165.1 254.5,155.3 275.5,132.0M296.5,182.4 317.5,175.4 338.5,178.8 359.5,173.3"/>
<path d="M212.5,183.4 233.5,165.3 254.5,147.6 275.5,139.7M296.5,196.7 317.5,182.2 338.5,184.4 359.5,184.6"/>
<path d="M212.5,176.6 233.5,164.1 254.5,164.1 275.5,157.4M296.5,181.3 317.5,177.7 338.5,178.5 359.5,178.3"/>
<path d="M212.5,170.1 233.5,156.0 254.5,145.5 275.5,158.4M296.5,186.1 317.5,182.2 338.5,181.4 359.5,183.5"/>
<path d="M212.5,174.6 233.5,168.2 254.5,156.3 275.5,151.8M296.5,182.4 317.5,183.0 338.5,188.2 359.5,178.7"/>
<path d="M212.5,164.6 233.5,159.3 254.5,155.5 275.5,143.1M296.5,184.4 317.5,181.3 338.5,186.5 359.5,182.4"/>
<path d="M212.5,175.1 233.5,161.6 254.5,155.3 275.5,149.6M296.5,193.0 317.5,177.5 338.5,176.3 359.5,174.8"/>
<path d="M212.5,182.5 233.5,163.8 254.5,159.7 275.5,152.3M296.5,191.1 317.5,182.5 338.5,190.1 359.5,188.1"/>
<path d="M212.5,180.3 233.5,164.7 254.5,158.7 275.5,148.5M296.5,200.3 317.5,182.4 338.5,180.3 359.5,185.9"/>
<path d="M212.5,180.7 233.5,157.8 254.5,161.8 275.5,145.8M296.5,199.2 317.5,186.2 338.5,181.4 359.5,183.9"/>
<path d="M212.5,182.0 233.5,165.8 254.5,157.1 275.5,142.9M296.5,197.6 317.5,183.2 338.5,178.3 359.5,176.7"/>
<path d="M212.5,175.4 233.5,157.9 254.5,149.4 275.5,134.0M296.5,180.9 317.5,178.5 338.5,178.9 359.5,173.9"/>
<path d="M212.5,168.4 233.5,160.9 254.5,144.0 275.5,136.9M296.5,178.4 317.5,182.0 338.5,176.3 359.5,185.4"/>
<path d="M212.5,174.3 233.5,153.7 254.5,152.3 275.5,149.1M296.5,182.9 317.5,175.8 338.5,181.9 359.5,180.9"/>
<path d="M212.5,178.9 233.5,167.2 254.5,155.2 275.5,158.0M296.5,195.5 317.5,181.7 338.5,189.0 359.5,186.8"/>
<path d="M212.5,173.4 233.5,162.6 254.5,158.6 275.5,150.2M296.5,193.7 317.5,178.1 338.5,181.4 359.5,185.0"/>
<path d="M212.5,173.8 233.5,170.6 254.5,155.0 275.5,148.3M296.5,186.7 317.5,186.2 338.5,190.0 359.5,178.5"/>
<path d="M212.5,172.7 233.5,162.1 254.5,142.7 275.5,137.5M296.5,186.6 317.5,174.2 338.5,182.7 359.5,178.1"/>
<path d="M212.5,171.7 233.5,164.7 254.5,157.1 275.5,144.8M296.5,191.2 317.5,175.3 338.5,181.2 359.5,178.8"/>
<path d="M212.5,173.9 233.5,159.1 254.5,149.1 275.5,131.4M296.5,177.4 317.5,178.3 338.5,182.5 359.5,174.9"/>
<path d="M212.5,165.2 233.5,163.9 254.5,151.3 275.5,134.7M296.5,192.8 317.5,180.4 338.5,175.3 359.5,172.5"/>
<path d="M212.5,169.9 233.5,161.3 254.5,149.0 275.5,135.5M296.5,183.1 317.5,181.4 338.5,190.0 359.5,184.5"/>
<path d="M212.5,174.6 233.5,163.2 254.5,160.2 275.5,155.0M296.5,186.2 317.5,178.7 338.5,186.0 359.5,171.6"/>
<path d="M212.5,176.5 233.5,158.3 254.5,158.6 275.5,143.0M296.5,198.9 317.5,182.0 338.5,179.4 359.5,178.5"/>
<path d="M212.5,172.7 233.5,167.9 254.5,155.5 275.5,147.5M296.5,193.8 317.5,178.6 338.5,184.0 359.5,172.1"/>
<path d="M212.5,182.5 233.5,170.3 254.5,152.6 275.5,160.4M296.5,199.7 317.5,184.8 338.5,186.0 359.5,176.9"/>
<path d="M212.5,174.3 233.5,159.0 254.5,163.7 275.5,160.5M296.5,185.1 317.5,182.4 338.5,182.0 359.5,183.4"/>
<path d="M212.5,179.3 233.5,153.9 254.5,150.8 275.5,149.5M296.5,188.0 317.5,180.1 338.5,189.1 359.5,172.0"/>
<path d="M212.5,171.3 233.5,151.7 254.5,152.9 275.5,140.0M296.5,190.7 317.5,183.0 338.5,175.6 359.5,171.6"/>
<path d="M212.5,172.3 233.5,168.1 254.5,155.7 275.5,138.6M296.5,191.7 317.5,176.9 338.5,189.8 359.5,184.0"/>
<path d="M212.5,165.4 233.5,161.3 254.5,150.1 275.5,127.9M296.5,182.0 317.5,173.4 338.5,182.1 359.5,178.5"/>
<path d="M212.5,168.5 233.5,167.1 254.5,155.0 275.5,158.0M296.5,189.3 317.5,181.6 338.5,186.3 359.5,188.2"/>
<path d="M212.5,178.7 233.5,155.0 254.5,155.6 275.5,151.3M296.5,192.6 317.5,180.9 338.5,186.2 359.5,185.7"/>
<path d="M212.5,180.8 233.5,160.9 254.5,163.2 275.5,154.9M296.5,184.0 317.5,184.3 338.5,185.9 359.5,175.4"/>
<path d="M212.5,172.3 233.5,169.9 254.5,159.8 275.5,145.6M296.5,193.8 317.5,176.7 338.5,190.1 359.5,174.5"/>
<path d="M212.5,177.3 233.5,170.1 254.5,153.0 275.5,156.1M296.5,183.7 317.5,180.2 338.5,187.6 359.5,186.1"/>
<path d="M212.5,173.1 233.5,167.2 254.5,145.5 275.5,156.2M296.5,188.2 317.5,179.3 338.5,187.1 359.5,175.1"/>
<path d="M212.5,176.7 233.5,168.7 254.5,160.2 275.5,161.6M296.5,198.9 317.5,178.3 338.5,189.3 359.5,180.1"/>
<path d="M212.5,177.6 233.5,158.4 254.5,153.6 275.5,142.1M296.5,188.7 317.5,182.2 338.5,183.9 359.5,180.8"/>
<path d="M212.5,174.8 233.5,160.9 254.5,139.2 275.5,132.7M296.5,177.7 317.5,174.1 338.5,186.0 359.5,179.4"/>
<path d="M212.5,178.3 233.5,155.5 254.5,145.2 275.5,145.7M296.5,186.1 317.5,176.0 338.5,177.8 359.5,179.9"/>
<path d="M212.5,171.1 233.5,166.2 254.5,159.5 275.5,131.9M296.5,182.4 317.5,176.6 338.5,188.9 359.5,185.5"/>
<path d="M212.5,181.5 233.5,169.3 254.5,160.6 275.5,153.7M296.5,200.3 317.5,183.1 338.5,183.9 359.5,187.4"/>
<path d="M212.5,169.2 233.5,164.8 254.5,153.0 275.5,138.0M296.5,188.8 317.5,183.4 338.5,177.0 359.5,172.8"/>
<path d="M212.5,180.7 233.5,172.0 254.5,151.1 275.5,150.1M296.5,201.0 317.5,184.4 338.5,192.3 359.5,178.0"/>
<path d="M212.5,169.1 233.5,167.4 254.5,147.2 275.5,147.8M296.5,182.1 317.5,175.4 338.5,185.4 359.5,184.6"/>
<path d="M212.5,165.0 233.5,155.8 254.5,144.0 275.5,131.7M296.5,182.7 317.5,178.3 338.5,187.5 359.5,173.2"/>
<path d="M212.5,176.6 233.5,164.0 254.5,145.7 275.5,157.5M296.5,184.9 317.5,185.0 338.5,181.8 359.5,175.5"/>
<path d="M212.5,167.6 233.5,160.9 254.5,154.1 275.5,153.7M296.5,197.4 317.5,181.3 338.5,185.3 359.5,184.8"/>
<path d="M212.5,173.9 233.5,164.9 254.5,143.6 275.5,135.1M296.5,188.8 317.5,179.8 338.5,180.1 359.5,176.4"/>
<path d="M212.5,175.2 233.5,152.5 254.5,158.0 275.5,140.8M296.5,188.5 317.5,175.0 338.5,180.7 359.5,172.6"/>
<path d="M212.5,180.4 233.5,161.3 254.5,154.0 275.5,150.2M296.5,184.9 317.5,177.1 338.5,190.3 359.5,184.2"/>
<path d="M212.5,182.1 233.5,167.4 254.5,161.3 275.5,144.1M296.5,191.1 317.5,184.4 338.5,187.5 359.5,181.3"/>
<path d="M212.5,175.2 233.5,166.4 254.5,160.3 275.5,156.4M296.5,177.8 317.5,176.2 338.5,188.3 359.5,174.3"/>
<path d="M212.5,176.8 233.5,158.7 254.5,150.3 275.5,149.3M296.5,183.3 317.5,182.2 338.5,174.5 359.5,173.2"/>
<path d="M212.5,173.2 233.5,155.3 254.5,151.7 275.5,154.0M296.5,194.0 317.5,183.6 338.5,190.9 359.5,175.4"/>
<path d="M212.5,177.9 233.5,158.9 254.5,144.0 275.5,132.0M296.5,193.2 317.5,176.1 338.5,177.8 359.5,174.1"/>
<path d="M212.5,179.1 233.5,169.4 254.5,150.0 275.5,154.8M296.5,193.6 317.5,180.5 338.5,187.6 359.5,176.2"/>
<path d="M212.5,173.6 233.5,160.6 254.5,146.6 275.5,141.3M296.5,181.1 317.5,175.3 338.5,183.9 359.5,179.2"/>
<path d="M212.5,178.8 233.5,165.2 254.5,151.3 275.5,155.9M296.5,184.0 317.5,182.5 338.5,183.8 359.5,171.0"/>
<path d="M212.5,174.9 233.5,166.8 254.5,148.0 275.5,157.8M296.5,181.5 317.5,175.7 338.5,179.0 359.5,179.8"/>
<path d="M212.5,177.3 233.5,159.5 254.5,153.6 275.5,148.9M296.5,191.0 317.5,180.0 338.5,181.0 359.5,173.7"/>
<path d="M212.5,193.5 233.5,184.4 254.5,163.5 275.5,155.6M296.5,190.9 317.5,180.4 338.5,184.4 359.5,180.4"/>
<path d="M212.5,192.2 233.5,194.8 254.5,168.7 275.5,158.2M296.5,187.0 317.5,179.1 338.5,183.0 359.5,177.8"/>
<path d="M212.5,189.6 233.5,179.1 254.5,166.1 275.5,156.9M296.5,184.4 317.5,177.8 338.5,185.7 359.5,181.7"/>
<path d="M212.5,187.0 233.5,189.6 254.5,176.5 275.5,160.9M296.5,192.2 317.5,181.7 338.5,187.0 359.5,179.1"/>
<path d="M212.5,164.8 233.5,138.7 254.5,133.5 275.5,126.9M296.5,175.2 317.5,173.3 338.5,173.9 359.5,168.7"/>
<path d="M212.5,167.4 233.5,142.6 254.5,136.1 275.5,125.6M296.5,176.5 317.5,173.9 338.5,175.2 359.5,159.6"/>
<path d="M212.5,168.7 233.5,146.5 254.5,137.4 275.5,128.2M296.5,177.8 317.5,175.2 338.5,173.9 359.5,164.8"/>
<path d="M212.5,175.2 233.5,163.5 254.5,154.3 275.5,147.8M296.5,210.5 317.5,187.0 338.5,189.6 359.5,184.4"/>
<path d="M212.5,173.9 233.5,162.2 254.5,155.6 275.5,149.1M296.5,207.8 317.5,190.9 338.5,205.9 359.5,197.4"/>
<path d="M212.5,172.6 233.5,164.8 254.5,153.0 275.5,146.5M296.5,205.2 317.5,184.4 338.5,201.3 359.5,202.6"/>
<path d="M212.5,176.5 233.5,160.9 254.5,156.9 275.5,150.4M296.5,209.1 317.5,183.0 338.5,197.4 359.5,194.8"/>
<path d="M212.5,175.2 233.5,166.1 254.5,151.7 275.5,145.2M296.5,203.9 317.5,192.2 338.5,203.9 359.5,200.0"/>
<path d="M212.5,173.9 233.5,163.5 254.5,155.6 275.5,147.8M296.5,202.6 317.5,185.7 338.5,196.1 359.5,192.2"/>
</g>
<polyline class="m" points="212.5,174.7 233.5,163.2 254.5,154.7 275.5,147.8"/>
<polyline class="m" points="296.5,188.4 317.5,179.7 338.5,183.8 359.5,179.3"/>
<circle class="d" cx="212.5" cy="174.7" r="1.15"/>
<circle class="d" cx="233.5" cy="163.2" r="1.15"/>
<circle class="d" cx="254.5" cy="154.7" r="1.15"/>
<circle class="d" cx="275.5" cy="147.8" r="1.15"/>
<circle class="d" cx="296.5" cy="188.4" r="1.15"/>
<circle class="d" cx="317.5" cy="179.7" r="1.15"/>
<circle class="d" cx="338.5" cy="183.8" r="1.15"/>
<circle class="d" cx="359.5" cy="179.3" r="1.15"/>
<line class="tm" x1="204.0" x2="206.6" y1="119.5" y2="119.5"/>
<text class="tk" text-anchor="end" x="201.9" y="122.5">4</text>
<line class="tm" x1="204.0" x2="206.6" y1="132.5" y2="132.5"/>
<text class="tk" text-anchor="end" x="201.9" y="135.5">3</text>
<line class="tm" x1="204.0" x2="206.6" y1="145.5" y2="145.5"/>
<text class="tk" text-anchor="end" x="201.9" y="148.5">2</text>
<line class="tm" x1="204.0" x2="206.6" y1="158.5" y2="158.5"/>
<text class="tk" text-anchor="end" x="201.9" y="161.5">1</text>
<line class="tm" x1="204.0" x2="206.6" y1="171.5" y2="171.5"/>
<text class="tk" text-anchor="end" x="201.9" y="174.5">0</text>
<line class="tm" x1="204.0" x2="206.6" y1="184.5" y2="184.5"/>
<text class="tk" text-anchor="end" x="201.9" y="187.5">−1</text>
<line class="tm" x1="204.0" x2="206.6" y1="197.5" y2="197.5"/>
<text class="tk" text-anchor="end" x="201.9" y="200.5">−2</text>
<line class="tm" x1="204.0" x2="206.6" y1="210.5" y2="210.5"/>
<text class="tk" text-anchor="end" x="201.9" y="213.5">−3</text>
<line class="tm" x1="212.5" x2="212.5" y1="212.9" y2="215.6"/>
<text class="xl" x="204.9" y="223.8">WT0</text>
<line class="tm" x1="233.5" x2="233.5" y1="212.9" y2="215.6"/>
<text class="xl" x="224.3" y="223.8">WT5</text>
<line class="tm" x1="254.5" x2="254.5" y1="212.9" y2="215.6"/>
<text class="xl" x="244.1" y="223.8">WT10</text>
<line class="tm" x1="275.5" x2="275.5" y1="212.9" y2="215.6"/>
<text class="xl" x="268.0" y="223.8">WT15</text>
<line class="tm" x1="296.5" x2="296.5" y1="212.9" y2="215.6"/>
<text class="xl xi" x="291.3" y="223.8">prx0</text>
<line class="tm" x1="317.5" x2="317.5" y1="212.9" y2="215.6"/>
<text class="xl xi" x="309.7" y="223.8">prx5</text>
<line class="tm" x1="338.5" x2="338.5" y1="212.9" y2="215.6"/>
<text class="xl xi" x="327.8" y="223.8">prx10</text>
<line class="tm" x1="359.5" x2="359.5" y1="212.9" y2="215.6"/>
<text class="xl xi" x="350.0" y="223.8">prx15</text>
<text class="tt" x="207.9" y="123.8" xml:space="preserve">MEblue  89 Genes</text>
</g>
<g id="p5">
<clipPath id="c5"><rect x="384.4" y="117.0" width="161.4" height="96.0"/></clipPath>
<rect class="fr" x="384.4" y="117.0" width="161.4" height="96.0"/>
<g class="g" clip-path="url(#c5)">
<path d="M391.3,167.2 412.5,151.1 433.6,138.8 454.8,144.9M476.0,178.8 497.2,168.6 518.3,167.8 539.5,165.4"/>
<path d="M391.3,157.4 412.5,146.8 433.6,135.5 454.8,134.7M476.0,168.2 497.2,164.2 518.3,162.7 539.5,174.3"/>
<path d="M391.3,168.3 412.5,152.1 433.6,134.6 454.8,146.1M476.0,174.5 497.2,168.6 518.3,170.4 539.5,161.7"/>
<path d="M391.3,170.1 412.5,157.6 433.6,143.5 454.8,148.4M476.0,186.3 497.2,165.7 518.3,171.6 539.5,168.8"/>
<path d="M391.3,167.4 412.5,154.9 433.6,153.1 454.8,152.1M476.0,171.8 497.2,166.7 518.3,174.7 539.5,163.6"/>
<path d="M391.3,167.3 412.5,154.7 433.6,139.0 454.8,146.0M476.0,173.2 497.2,162.6 518.3,168.8 539.5,163.0"/>
<path d="M391.3,160.7 412.5,154.3 433.6,140.6 454.8,147.9M476.0,173.1 497.2,157.8 518.3,163.0 539.5,159.6"/>
<path d="M391.3,157.4 412.5,154.2 433.6,127.5 454.8,135.6M476.0,179.4 497.2,158.5 518.3,166.0 539.5,169.2"/>
<path d="M391.3,154.9 412.5,153.0 433.6,130.5 454.8,147.1M476.0,175.5 497.2,163.4 518.3,170.0 539.5,160.6"/>
<path d="M391.3,168.5 412.5,154.4 433.6,139.1 454.8,146.1M476.0,169.4 497.2,164.1 518.3,161.6 539.5,166.3"/>
<path d="M391.3,166.6 412.5,143.5 433.6,138.4 454.8,130.5M476.0,166.2 497.2,156.4 518.3,167.2 539.5,162.7"/>
<path d="M391.3,165.6 412.5,148.0 433.6,141.8 454.8,154.0M476.0,176.6 497.2,171.8 518.3,168.6 539.5,164.4"/>
<path d="M391.3,155.1 412.5,150.4 433.6,142.0 454.8,137.7M476.0,164.0 497.2,159.4 518.3,167.4 539.5,168.7"/>
<path d="M391.3,167.2 412.5,143.5 433.6,143.1 454.8,136.3M476.0,173.8 497.2,158.7 518.3,164.0 539.5,167.5"/>
<path d="M391.3,158.5 412.5,145.0 433.6,128.1 454.8,148.9M476.0,174.9 497.2,167.0 518.3,163.9 539.5,156.9"/>
<path d="M391.3,163.6 412.5,158.5 433.6,151.3 454.8,140.6M476.0,174.9 497.2,168.1 518.3,169.3 539.5,174.4"/>
<path d="M391.3,155.7 412.5,148.6 433.6,148.2 454.8,144.9M476.0,178.2 497.2,158.2 518.3,163.5 539.5,171.8"/>
<path d="M391.3,169.2 412.5,154.8 433.6,145.9 454.8,145.2M476.0,179.8 497.2,168.4 518.3,175.4 539.5,167.6"/>
<path d="M391.3,167.0 412.5,145.1 433.6,151.1 454.8,149.8M476.0,172.5 497.2,167.8 518.3,170.0 539.5,166.7"/>
<path d="M391.3,167.7 412.5,150.2 433.6,141.1 454.8,132.9M476.0,166.0 497.2,169.9 518.3,165.1 539.5,161.1"/>
<path d="M391.3,158.4 412.5,146.5 433.6,140.3 454.8,143.7M476.0,166.0 497.2,156.9 518.3,156.2 539.5,159.2"/>
<path d="M391.3,168.9 412.5,151.2 433.6,142.4 454.8,147.5M476.0,176.8 497.2,169.4 518.3,169.2 539.5,171.6"/>
<path d="M391.3,166.7 412.5,142.6 433.6,139.2 454.8,143.3M476.0,176.7 497.2,166.1 518.3,166.5 539.5,169.6"/>
<path d="M391.3,168.9 412.5,145.5 433.6,142.1 454.8,143.7M476.0,172.8 497.2,166.4 518.3,170.3 539.5,172.2"/>
<path d="M391.3,162.7 412.5,151.6 433.6,133.5 454.8,147.3M476.0,168.7 497.2,164.5 518.3,173.1 539.5,172.2"/>
<path d="M391.3,161.3 412.5,142.6 433.6,142.2 454.8,134.3M476.0,173.6 497.2,157.9 518.3,170.4 539.5,163.9"/>
<path d="M391.3,167.3 412.5,155.5 433.6,146.3 454.8,145.6M476.0,169.4 497.2,166.7 518.3,166.3 539.5,169.1"/>
<path d="M391.3,166.4 412.5,147.8 433.6,141.2 454.8,150.1M476.0,172.6 497.2,160.0 518.3,166.5 539.5,174.4"/>
<path d="M391.3,166.7 412.5,154.0 433.6,145.6 454.8,139.9M476.0,166.1 497.2,161.1 518.3,157.5 539.5,168.6"/>
<path d="M391.3,169.5 412.5,152.8 433.6,146.4 454.8,151.1M476.0,178.3 497.2,171.0 518.3,175.4 539.5,173.4"/>
<path d="M391.3,164.6 412.5,148.1 433.6,134.2 454.8,143.6M476.0,171.3 497.2,167.5 518.3,156.2 539.5,160.8"/>
<path d="M391.3,153.8 412.5,155.6 433.6,138.1 454.8,137.2M476.0,176.7 497.2,168.7 518.3,170.3 539.5,170.8"/>
<path d="M391.3,159.3 412.5,152.3 433.6,141.4 454.8,141.8M476.0,174.0 497.2,162.7 518.3,164.9 539.5,168.9"/>
<path d="M391.3,163.0 412.5,155.1 433.6,139.5 454.8,139.9M476.0,171.7 497.2,168.1 518.3,163.6 539.5,159.5"/>
<path d="M391.3,167.3 412.5,147.5 433.6,151.8 454.8,153.9M476.0,178.1 497.2,164.8 518.3,164.6 539.5,170.8"/>
<path d="M391.3,154.4 412.5,154.1 433.6,135.5 454.8,149.7M476.0,182.6 497.2,168.6 518.3,172.0 539.5,165.5"/>
<path d="M391.3,159.2 412.5,154.3 433.6,150.9 454.8,150.8M476.0,172.9 497.2,160.8 518.3,172.8 539.5,175.6"/>
<path d="M391.3,161.2 412.5,154.9 433.6,132.2 454.8,144.6M476.0,173.4 497.2,167.2 518.3,162.4 539.5,167.6"/>
<path d="M391.3,169.7 412.5,150.9 433.6,153.7 454.8,144.6M476.0,180.0 497.2,162.5 518.3,175.1 539.5,168.3"/>
<path d="M391.3,160.3 412.5,142.6 433.6,127.5 454.8,132.8M476.0,173.5 497.2,163.3 518.3,164.5 539.5,161.1"/>
<path d="M391.3,160.4 412.5,149.4 433.6,145.9 454.8,132.5M476.0,179.8 497.2,163.8 518.3,171.1 539.5,159.8"/>
<path d="M391.3,155.3 412.5,152.7 433.6,133.6 454.8,133.8M476.0,176.6 497.2,165.4 518.3,164.8 539.5,157.3"/>
<path d="M391.3,160.9 412.5,150.1 433.6,137.1 454.8,131.9M476.0,177.5 497.2,157.8 518.3,166.4 539.5,158.8"/>
<path d="M391.3,152.7 412.5,152.4 433.6,128.2 454.8,129.5M476.0,174.3 497.2,167.6 518.3,168.6 539.5,155.2"/>
<path d="M391.3,168.4 412.5,148.0 433.6,149.3 454.8,148.7M476.0,171.5 497.2,169.4 518.3,168.5 539.5,158.6"/>
<path d="M391.3,157.6 412.5,157.6 433.6,148.8 454.8,139.2M476.0,173.2 497.2,171.2 518.3,167.7 539.5,171.9"/>
<path d="M391.3,169.6 412.5,145.9 433.6,147.3 454.8,137.3M476.0,183.2 497.2,166.0 518.3,172.7 539.5,168.8"/>
<path d="M391.3,168.2 412.5,148.5 433.6,148.2 454.8,137.7M476.0,174.4 497.2,168.9 518.3,168.1 539.5,165.8"/>
<path d="M391.3,167.3 412.5,142.9 433.6,129.9 454.8,135.3M476.0,176.3 497.2,166.8 518.3,167.7 539.5,170.7"/>
<path d="M391.3,169.5 412.5,152.4 433.6,145.7 454.8,144.4M476.0,179.0 497.2,171.6 518.3,165.0 539.5,165.2"/>
<path d="M391.3,166.9 412.5,148.1 433.6,139.2 454.8,144.2M476.0,180.9 497.2,169.7 518.3,170.9 539.5,162.2"/>
<path d="M391.3,167.6 412.5,153.6 433.6,145.3 454.8,150.5M476.0,167.6 497.2,171.4 518.3,166.0 539.5,160.1"/>
<path d="M391.3,167.3 412.5,154.5 433.6,148.1 454.8,150.1M476.0,169.3 497.2,161.2 518.3,160.1 539.5,173.6"/>
<path d="M391.3,156.2 412.5,150.4 433.6,133.0 454.8,136.9M476.0,173.7 497.2,156.4 518.3,169.9 539.5,157.5"/>
<path d="M391.3,161.4 412.5,142.8 433.6,144.8 454.8,137.9M476.0,168.5 497.2,164.7 518.3,161.0 539.5,165.8"/>
<path d="M391.3,167.5 412.5,152.3 433.6,142.6 454.8,149.6M476.0,176.0 497.2,166.5 518.3,172.9 539.5,167.4"/>
<path d="M391.3,167.0 412.5,149.1 433.6,142.8 454.8,144.9M476.0,180.6 497.2,169.5 518.3,160.3 539.5,166.5"/>
<path d="M391.3,164.8 412.5,157.0 433.6,152.6 454.8,141.9M476.0,179.8 497.2,165.9 518.3,165.1 539.5,163.5"/>
<path d="M391.3,159.0 412.5,157.0 433.6,145.3 454.8,137.3M476.0,170.2 497.2,169.7 518.3,171.8 539.5,170.8"/>
<path d="M391.3,156.4 412.5,149.3 433.6,140.3 454.8,148.1M476.0,174.4 497.2,156.4 518.3,161.2 539.5,164.7"/>
<path d="M391.3,164.7 412.5,145.9 433.6,133.9 454.8,147.7M476.0,170.1 497.2,165.2 518.3,164.6 539.5,168.8"/>
<path d="M391.3,210.9 412.5,152.2 433.6,143.4 454.8,145.3M476.0,173.7 497.2,163.9 518.3,165.9 539.5,164.9"/>
<path d="M391.3,207.9 412.5,154.1 433.6,141.4 454.8,142.4M476.0,175.6 497.2,165.9 518.3,166.8 539.5,167.8"/>
<path d="M391.3,204.0 412.5,150.2 433.6,140.4 454.8,144.4M476.0,172.7 497.2,162.9 518.3,164.9 539.5,165.9"/>
<path d="M391.3,200.1 412.5,153.2 433.6,145.3 454.8,146.3M476.0,177.6 497.2,166.8 518.3,168.8 539.5,168.8"/>
<path d="M391.3,196.2 412.5,151.2 433.6,138.5 454.8,140.4M476.0,174.7 497.2,164.9 518.3,165.9 539.5,166.8"/>
<path d="M391.3,192.3 412.5,155.1 433.6,144.4 454.8,143.4M476.0,171.7 497.2,162.0 518.3,167.8 539.5,163.9"/>
<path d="M391.3,188.4 412.5,149.2 433.6,142.4 454.8,145.3M476.0,176.6 497.2,165.9 518.3,163.9 539.5,165.9"/>
<path d="M391.3,184.4 412.5,152.2 433.6,139.5 454.8,141.4M476.0,173.7 497.2,163.9 518.3,166.8 539.5,167.8"/>
<path d="M391.3,180.5 412.5,154.1 433.6,146.3 454.8,147.3M476.0,178.6 497.2,167.8 518.3,169.8 539.5,169.8"/>
<path d="M391.3,206.0 412.5,162.0 433.6,148.3 454.8,149.2M476.0,179.6 497.2,168.8 518.3,170.8 539.5,171.7"/>
<path d="M391.3,208.9 412.5,156.1 433.6,144.4 454.8,145.3M476.0,174.7 497.2,164.9 518.3,165.9 539.5,166.8"/>
<path d="M391.3,202.1 412.5,151.2 433.6,137.5 454.8,139.5M476.0,170.8 497.2,162.9 518.3,164.9 539.5,163.9"/>
<path d="M391.3,198.1 412.5,154.1 433.6,147.3 454.8,148.3M476.0,180.5 497.2,167.8 518.3,168.8 539.5,169.8"/>
<path d="M391.3,194.2 412.5,148.3 433.6,136.5 454.8,138.5M476.0,175.6 497.2,163.9 518.3,166.8 539.5,165.9"/>
<path d="M391.3,189.3 412.5,155.1 433.6,141.4 454.8,143.4M476.0,172.7 497.2,165.9 518.3,167.8 539.5,168.8"/>
<path d="M391.3,186.4 412.5,152.2 433.6,145.3 454.8,144.4M476.0,182.5 497.2,166.8 518.3,165.9 539.5,164.9"/>
<path d="M391.3,165.9 412.5,152.2 433.6,141.4 454.8,143.4M476.0,204.0 497.2,163.9 518.3,164.9 539.5,165.9"/>
<path d="M391.3,166.8 412.5,151.2 433.6,144.4 454.8,145.3M476.0,200.1 497.2,166.8 518.3,167.8 539.5,168.8"/>
<path d="M391.3,164.9 412.5,153.2 433.6,140.4 454.8,141.4M476.0,196.2 497.2,164.9 518.3,168.8 539.5,166.8"/>
<path d="M391.3,152.2 412.5,141.4 433.6,125.8 454.8,129.2M476.0,162.9 497.2,154.1 518.3,154.1 539.5,152.2"/>
<path d="M391.3,154.1 412.5,142.4 433.6,126.7 454.8,129.7M476.0,163.9 497.2,155.1 518.3,155.1 539.5,154.1"/>
<path d="M391.3,166.8 412.5,151.2 433.6,142.4 454.8,144.4M476.0,206.9 497.2,165.9 518.3,166.8 539.5,166.8"/>
<path d="M391.3,164.9 412.5,152.2 433.6,143.4 454.8,145.3M476.0,202.1 497.2,167.8 518.3,168.8 539.5,167.8"/>
<path d="M391.3,167.8 412.5,150.2 433.6,141.4 454.8,143.4M476.0,198.1 497.2,164.9 518.3,165.9 539.5,165.9"/>
<path d="M391.3,165.9 412.5,153.2 433.6,144.4 454.8,142.4M476.0,194.2 497.2,169.8 518.3,171.7 539.5,170.8"/>
<path d="M391.3,168.8 412.5,151.2 433.6,140.4 454.8,144.4M476.0,190.3 497.2,166.8 518.3,183.5 539.5,173.7"/>
<path d="M391.3,163.9 412.5,152.2 433.6,142.4 454.8,145.3M476.0,192.3 497.2,176.6 518.3,175.6 539.5,179.6"/>
</g>
<polyline class="m" points="391.3,166.7 412.5,151.6 433.6,142.5 454.8,144.0"/>
<polyline class="m" points="476.0,175.1 497.2,164.9 518.3,166.7 539.5,166.4"/>
<circle class="d" cx="391.3" cy="166.7" r="1.15"/>
<circle class="d" cx="412.5" cy="151.6" r="1.15"/>
<circle class="d" cx="433.6" cy="142.5" r="1.15"/>
<circle class="d" cx="454.8" cy="144.0" r="1.15"/>
<circle class="d" cx="476.0" cy="175.1" r="1.15"/>
<circle class="d" cx="497.2" cy="164.9" r="1.15"/>
<circle class="d" cx="518.3" cy="166.7" r="1.15"/>
<circle class="d" cx="539.5" cy="166.4" r="1.15"/>
<line class="tm" x1="381.8" x2="384.4" y1="120.3" y2="120.3"/>
<text class="tk" text-anchor="end" x="379.7" y="123.3">4</text>
<line class="tm" x1="381.8" x2="384.4" y1="140.0" y2="140.0"/>
<text class="tk" text-anchor="end" x="379.7" y="143.0">2</text>
<line class="tm" x1="381.8" x2="384.4" y1="159.8" y2="159.8"/>
<text class="tk" text-anchor="end" x="379.7" y="162.8">0</text>
<line class="tm" x1="381.8" x2="384.4" y1="179.5" y2="179.5"/>
<text class="tk" text-anchor="end" x="379.7" y="182.5">−2</text>
<line class="tm" x1="381.8" x2="384.4" y1="199.2" y2="199.2"/>
<text class="tk" text-anchor="end" x="379.7" y="202.2">−4</text>
<line class="tm" x1="391.3" x2="391.3" y1="213.0" y2="215.7"/>
<text class="xl" x="383.2" y="223.7">WT0</text>
<line class="tm" x1="412.5" x2="412.5" y1="213.0" y2="215.7"/>
<text class="xl" x="402.6" y="223.7">WT5</text>
<line class="tm" x1="433.6" x2="433.6" y1="213.0" y2="215.7"/>
<text class="xl" x="422.4" y="223.7">WT10</text>
<line class="tm" x1="454.8" x2="454.8" y1="213.0" y2="215.7"/>
<text class="xl" x="446.3" y="223.7">WT15</text>
<line class="tm" x1="476.0" x2="476.0" y1="213.0" y2="215.7"/>
<text class="xl xi" x="469.6" y="223.7">prx0</text>
<line class="tm" x1="497.2" x2="497.2" y1="213.0" y2="215.7"/>
<text class="xl xi" x="488.0" y="223.7">prx5</text>
<line class="tm" x1="518.3" x2="518.3" y1="213.0" y2="215.7"/>
<text class="xl xi" x="506.1" y="223.7">prx10</text>
<line class="tm" x1="539.5" x2="539.5" y1="213.0" y2="215.7"/>
<text class="xl xi" x="528.3" y="223.7">prx15</text>
<text class="tt" x="385.7" y="123.5" xml:space="preserve">MEturquoise  88 genes</text>
</g>
<g id="p6">
<clipPath id="c6"><rect x="26.5" y="230.3" width="160.4" height="96.2"/></clipPath>
<rect class="fr" x="26.5" y="230.3" width="160.4" height="96.2"/>
<g class="g" clip-path="url(#c6)">
<path d="M32.2,290.0 53.4,302.0 74.6,307.2 95.8,300.5M116.9,281.0 138.1,291.3 159.3,287.0 180.5,290.4"/>
<path d="M32.2,287.9 53.4,297.4 74.6,297.3 95.8,303.0M116.9,266.0 138.1,280.1 159.3,289.8 180.5,286.1"/>
<path d="M32.2,288.0 53.4,299.9 74.6,302.7 95.8,300.7M116.9,265.6 138.1,287.6 159.3,288.3 180.5,284.1"/>
<path d="M32.2,286.6 53.4,300.1 74.6,306.7 95.8,301.9M116.9,267.6 138.1,292.7 159.3,285.7 180.5,287.1"/>
<path d="M32.2,291.5 53.4,302.3 74.6,302.1 95.8,303.4M116.9,273.8 138.1,288.4 159.3,285.8 180.5,286.0"/>
<path d="M32.2,290.4 53.4,293.3 74.6,300.8 95.8,298.0M116.9,261.1 138.1,284.5 159.3,286.1 180.5,279.7"/>
<path d="M32.2,289.5 53.4,295.0 74.6,303.2 95.8,299.6M116.9,276.2 138.1,293.7 159.3,288.3 180.5,288.3"/>
<path d="M32.2,282.3 53.4,292.7 74.6,306.0 95.8,302.1M116.9,276.9 138.1,281.2 159.3,291.2 180.5,290.2"/>
<path d="M32.2,292.3 53.4,294.3 74.6,300.2 95.8,300.1M116.9,278.7 138.1,283.6 159.3,288.8 180.5,285.6"/>
<path d="M32.2,283.7 53.4,295.5 74.6,301.3 95.8,306.5M116.9,278.2 138.1,288.7 159.3,294.5 180.5,283.8"/>
<path d="M32.2,289.7 53.4,298.8 74.6,298.8 95.8,299.6M116.9,270.8 138.1,287.2 159.3,292.8 180.5,289.0"/>
<path d="M32.2,280.0 53.4,291.8 74.6,296.7 95.8,301.0M116.9,273.4 138.1,289.6 159.3,286.0 180.5,286.4"/>
<path d="M32.2,288.8 53.4,299.6 74.6,301.8 95.8,305.5M116.9,267.0 138.1,287.9 159.3,294.5 180.5,291.0"/>
<path d="M32.2,286.2 53.4,296.6 74.6,301.4 95.8,301.3M116.9,273.9 138.1,281.8 159.3,289.7 180.5,283.6"/>
<path d="M32.2,286.8 53.4,291.1 74.6,302.5 95.8,294.6M116.9,277.3 138.1,285.8 159.3,285.6 180.5,290.6"/>
<path d="M32.2,285.6 53.4,302.4 74.6,304.3 95.8,306.0M116.9,267.4 138.1,288.1 159.3,287.4 180.5,289.3"/>
<path d="M32.2,291.1 53.4,300.3 74.6,300.3 95.8,305.2M116.9,265.6 138.1,291.1 159.3,293.3 180.5,292.5"/>
<path d="M32.2,286.9 53.4,294.2 74.6,306.4 95.8,301.0M116.9,279.8 138.1,284.1 159.3,288.8 180.5,293.1"/>
<path d="M32.2,289.4 53.4,290.2 74.6,302.0 95.8,299.9M116.9,264.3 138.1,284.8 159.3,284.3 180.5,287.4"/>
<path d="M32.2,279.9 53.4,296.9 74.6,297.5 95.8,302.6M116.9,263.5 138.1,278.9 159.3,288.1 180.5,290.6"/>
<path d="M32.2,292.7 53.4,297.7 74.6,309.2 95.8,302.5M116.9,270.1 138.1,289.2 159.3,288.3 180.5,293.0"/>
<path d="M32.2,279.9 53.4,298.0 74.6,295.5 95.8,292.4M116.9,259.6 138.1,283.4 159.3,288.3 180.5,286.3"/>
<path d="M32.2,281.2 53.4,300.1 74.6,303.0 95.8,295.7M116.9,268.9 138.1,285.5 159.3,292.2 180.5,290.6"/>
<path d="M32.2,292.4 53.4,294.5 74.6,301.3 95.8,305.3M116.9,267.1 138.1,293.7 159.3,289.3 180.5,283.8"/>
<path d="M32.2,288.5 53.4,302.4 74.6,307.3 95.8,303.3M116.9,280.0 138.1,286.1 159.3,293.8 180.5,286.3"/>
<path d="M32.2,284.8 53.4,296.6 74.6,297.5 95.8,300.2M116.9,263.0 138.1,278.2 159.3,282.8 180.5,282.7"/>
<path d="M32.2,289.4 53.4,292.5 74.6,304.3 95.8,296.4M116.9,269.3 138.1,284.8 159.3,283.8 180.5,287.9"/>
<path d="M32.2,290.5 53.4,291.4 74.6,304.1 95.8,295.4M116.9,263.2 138.1,285.6 159.3,291.1 180.5,290.5"/>
<path d="M32.2,260.2 53.4,288.6 74.6,298.4 95.8,296.6M116.9,267.3 138.1,285.1 159.3,286.8 180.5,286.0"/>
<path d="M32.2,263.8 53.4,291.3 74.6,301.0 95.8,298.4M116.9,270.0 138.1,286.8 159.3,288.6 180.5,287.7"/>
<path d="M32.2,267.3 53.4,289.5 74.6,299.3 95.8,297.5M116.9,264.7 138.1,284.2 159.3,287.7 180.5,285.1"/>
<path d="M32.2,270.9 53.4,293.0 74.6,303.7 95.8,300.1M116.9,271.8 138.1,287.7 159.3,289.5 180.5,288.6"/>
<path d="M32.2,300.1 53.4,300.1 74.6,301.0 95.8,300.1M116.9,273.5 138.1,288.6 159.3,291.3 180.5,289.5"/>
<path d="M32.2,303.7 53.4,303.7 74.6,304.6 95.8,304.6M116.9,276.2 138.1,289.5 159.3,293.0 180.5,292.2"/>
<path d="M32.2,287.7 53.4,298.4 74.6,321.4 95.8,315.2M116.9,268.2 138.1,285.1 159.3,287.7 180.5,286.8"/>
<path d="M32.2,286.0 53.4,301.0 74.6,317.9 95.8,312.6M116.9,271.8 138.1,286.8 159.3,288.6 180.5,286.0"/>
<path d="M32.2,289.5 53.4,303.7 74.6,315.2 95.8,313.4M116.9,274.4 138.1,287.7 159.3,289.5 180.5,287.7"/>
<path d="M32.2,286.8 53.4,306.4 74.6,319.7 95.8,314.3M116.9,269.1 138.1,286.0 159.3,286.8 180.5,285.1"/>
<path d="M32.2,285.1 53.4,293.9 74.6,300.1 95.8,297.5M116.9,233.6 138.1,277.1 159.3,282.4 180.5,281.5"/>
<path d="M32.2,286.8 53.4,295.7 74.6,301.9 95.8,299.3M116.9,238.9 138.1,272.6 159.3,276.2 180.5,276.2"/>
<path d="M32.2,288.6 53.4,296.6 74.6,303.7 95.8,301.0M116.9,244.3 138.1,279.7 159.3,284.2 180.5,283.3"/>
<path d="M32.2,286.0 53.4,294.8 74.6,301.0 95.8,298.4M116.9,249.6 138.1,281.5 159.3,285.1 180.5,282.4"/>
<path d="M32.2,287.7 53.4,297.5 74.6,302.8 95.8,300.1M116.9,254.0 138.1,282.4 159.3,286.0 180.5,284.2"/>
<path d="M32.2,284.2 53.4,293.0 74.6,299.3 95.8,296.6M116.9,256.7 138.1,278.9 159.3,278.0 180.5,278.9"/>
<path d="M32.2,287.7 53.4,295.7 74.6,302.8 95.8,300.1M116.9,278.9 138.1,297.5 159.3,297.9 180.5,296.2"/>
</g>
<polyline class="m" points="32.2,287.4 53.4,296.2 74.6,302.8 95.8,300.0"/>
<polyline class="m" points="116.9,270.6 138.1,286.0 159.3,288.1 180.5,286.7"/>
<circle class="d" cx="32.2" cy="287.4" r="1.15"/>
<circle class="d" cx="53.4" cy="296.2" r="1.15"/>
<circle class="d" cx="74.6" cy="302.8" r="1.15"/>
<circle class="d" cx="95.8" cy="300.0" r="1.15"/>
<circle class="d" cx="116.9" cy="270.6" r="1.15"/>
<circle class="d" cx="138.1" cy="286.0" r="1.15"/>
<circle class="d" cx="159.3" cy="288.1" r="1.15"/>
<circle class="d" cx="180.5" cy="286.7" r="1.15"/>
<line class="tm" x1="23.9" x2="26.5" y1="235.2" y2="235.2"/>
<text class="tk" text-anchor="end" x="21.8" y="238.2">6</text>
<line class="tm" x1="23.9" x2="26.5" y1="253.4" y2="253.4"/>
<text class="tk" text-anchor="end" x="21.8" y="256.4">4</text>
<line class="tm" x1="23.9" x2="26.5" y1="271.6" y2="271.6"/>
<text class="tk" text-anchor="end" x="21.8" y="274.6">2</text>
<line class="tm" x1="23.9" x2="26.5" y1="289.8" y2="289.8"/>
<text class="tk" text-anchor="end" x="21.8" y="292.8">0</text>
<line class="tm" x1="23.9" x2="26.5" y1="308.0" y2="308.0"/>
<text class="tk" text-anchor="end" x="21.8" y="311.0">−2</text>
<line class="tm" x1="23.9" x2="26.5" y1="326.2" y2="326.2"/>
<text class="tk" text-anchor="end" x="21.8" y="329.2">−4</text>
<line class="tm" x1="32.2" x2="32.2" y1="326.5" y2="329.2"/>
<text class="xl" x="24.5" y="337.2">WT0</text>
<line class="tm" x1="53.4" x2="53.4" y1="326.5" y2="329.2"/>
<text class="xl" x="43.9" y="337.2">WT5</text>
<line class="tm" x1="74.6" x2="74.6" y1="326.5" y2="329.2"/>
<text class="xl" x="63.7" y="337.2">WT10</text>
<line class="tm" x1="95.8" x2="95.8" y1="326.5" y2="329.2"/>
<text class="xl" x="87.6" y="337.2">WT15</text>
<line class="tm" x1="116.9" x2="116.9" y1="326.5" y2="329.2"/>
<text class="xl xi" x="110.9" y="337.2">prx0</text>
<line class="tm" x1="138.1" x2="138.1" y1="326.5" y2="329.2"/>
<text class="xl xi" x="129.3" y="337.2">prx5</text>
<line class="tm" x1="159.3" x2="159.3" y1="326.5" y2="329.2"/>
<text class="xl xi" x="147.4" y="337.2">prx10</text>
<line class="tm" x1="180.5" x2="180.5" y1="326.5" y2="329.2"/>
<text class="xl xi" x="169.6" y="337.2">prx15</text>
<text class="tt" x="27.8" y="236.4" xml:space="preserve">MEpink  45 genes</text>
<text class="yl" transform="translate(8.8,278.1) rotate(-90)">Centered log<tspan font-size="5.2" dy="1.3">2</tspan><tspan dy="-1.3">(FPKM+1)</tspan></text>
</g>
<g id="p7">
<clipPath id="c7"><rect x="206.6" y="229.5" width="159.3" height="96.3"/></clipPath>
<rect class="fr" x="206.6" y="229.5" width="159.3" height="96.3"/>
<g class="g" clip-path="url(#c7)">
<path d="M212.2,293.7 233.3,289.1 254.3,301.7 275.4,295.9M296.4,270.1 317.5,256.3 338.5,258.1 359.6,268.8"/>
<path d="M212.2,298.3 233.3,292.9 254.3,302.2 275.4,301.0M296.4,270.9 317.5,251.4 338.5,260.4 359.6,263.4"/>
<path d="M212.2,294.2 233.3,285.3 254.3,296.1 275.4,292.9M296.4,269.5 317.5,251.7 338.5,264.0 359.6,270.2"/>
<path d="M212.2,291.5 233.3,291.1 254.3,287.8 275.4,298.8M296.4,262.3 317.5,260.1 338.5,254.4 359.6,261.3"/>
<path d="M212.2,290.8 233.3,295.9 254.3,300.6 275.4,294.4M296.4,258.6 317.5,265.6 338.5,256.7 359.6,264.8"/>
<path d="M212.2,288.7 233.3,290.3 254.3,289.4 275.4,300.9M296.4,258.7 317.5,259.1 338.5,259.8 359.6,271.9"/>
<path d="M212.2,298.8 233.3,289.6 254.3,297.8 275.4,301.8M296.4,270.8 317.5,267.1 338.5,266.3 359.6,273.0"/>
<path d="M212.2,290.9 233.3,290.2 254.3,301.2 275.4,299.1M296.4,265.9 317.5,255.1 338.5,259.5 359.6,269.4"/>
<path d="M212.2,288.0 233.3,284.7 254.3,301.8 275.4,291.9M296.4,267.3 317.5,262.9 338.5,249.6 359.6,264.4"/>
<path d="M212.2,286.9 233.3,292.2 254.3,287.7 275.4,286.8M296.4,256.7 317.5,246.8 338.5,249.0 359.6,260.1"/>
<path d="M212.2,292.3 233.3,289.0 254.3,294.6 275.4,300.4M296.4,262.0 317.5,261.0 338.5,254.5 359.6,274.3"/>
<path d="M212.2,289.1 233.3,287.9 254.3,302.2 275.4,293.0M296.4,271.7 317.5,265.4 338.5,261.7 359.6,272.2"/>
<path d="M212.2,291.5 233.3,287.1 254.3,299.1 275.4,291.9M296.4,261.6 317.5,253.9 338.5,251.2 359.6,263.1"/>
<path d="M212.2,293.4 233.3,286.4 254.3,300.7 275.4,296.0M296.4,262.3 317.5,253.4 338.5,267.8 359.6,268.9"/>
<path d="M212.2,299.0 233.3,295.2 254.3,291.8 275.4,296.8M296.4,264.1 317.5,258.7 338.5,261.2 359.6,270.8"/>
<path d="M212.2,295.7 233.3,296.3 254.3,305.3 275.4,301.2M296.4,266.6 317.5,263.3 338.5,260.4 359.6,266.8"/>
<path d="M212.2,295.5 233.3,283.0 254.3,300.0 275.4,287.2M296.4,266.6 317.5,257.2 338.5,248.0 359.6,265.8"/>
<path d="M212.2,292.0 233.3,283.3 254.3,298.6 275.4,295.5M296.4,258.5 317.5,257.1 338.5,249.6 359.6,270.8"/>
<path d="M212.2,281.1 233.3,279.0 254.3,283.3 275.4,287.6M296.4,246.8 317.5,233.8 338.5,241.4 359.6,255.3"/>
<path d="M212.2,285.4 233.3,280.1 254.3,285.4 275.4,286.5M296.4,253.2 317.5,240.3 338.5,246.8 359.6,259.6"/>
<path d="M212.2,308.0 233.3,311.2 254.3,313.4 275.4,312.3M296.4,268.2 317.5,261.8 338.5,263.9 359.6,272.6"/>
<path d="M212.2,306.9 233.3,304.8 254.3,315.6 275.4,322.0M296.4,272.6 317.5,266.1 338.5,266.1 359.6,274.7"/>
<path d="M212.2,302.6 233.3,311.2 254.3,311.2 275.4,310.2M296.4,285.4 317.5,269.3 338.5,268.2 359.6,276.9"/>
<path d="M212.2,289.8 233.3,285.4 254.3,291.9 275.4,289.8M296.4,261.8 317.5,248.9 338.5,242.4 359.6,261.8"/>
</g>
<polyline class="m" points="212.2,294.7 233.3,290.8 254.3,298.1 275.4,296.4"/>
<polyline class="m" points="296.4,266.3 317.5,258.8 338.5,259.4 359.6,268.0"/>
<circle class="d" cx="212.2" cy="294.7" r="1.15"/>
<circle class="d" cx="233.3" cy="290.8" r="1.15"/>
<circle class="d" cx="254.3" cy="298.1" r="1.15"/>
<circle class="d" cx="275.4" cy="296.4" r="1.15"/>
<circle class="d" cx="296.4" cy="266.3" r="1.15"/>
<circle class="d" cx="317.5" cy="258.8" r="1.15"/>
<circle class="d" cx="338.5" cy="259.4" r="1.15"/>
<circle class="d" cx="359.6" cy="268.0" r="1.15"/>
<line class="tm" x1="204.0" x2="206.6" y1="236.2" y2="236.2"/>
<text class="tk" text-anchor="end" x="201.9" y="239.2">2</text>
<line class="tm" x1="204.0" x2="206.6" y1="257.7" y2="257.7"/>
<text class="tk" text-anchor="end" x="201.9" y="260.7">1</text>
<line class="tm" x1="204.0" x2="206.6" y1="279.1" y2="279.1"/>
<text class="tk" text-anchor="end" x="201.9" y="282.1">0</text>
<line class="tm" x1="204.0" x2="206.6" y1="300.6" y2="300.6"/>
<text class="tk" text-anchor="end" x="201.9" y="303.6">−1</text>
<line class="tm" x1="204.0" x2="206.6" y1="322.0" y2="322.0"/>
<text class="tk" text-anchor="end" x="201.9" y="325.0">−2</text>
<line class="tm" x1="212.2" x2="212.2" y1="325.8" y2="328.5"/>
<text class="xl" x="204.9" y="336.4">WT0</text>
<line class="tm" x1="233.3" x2="233.3" y1="325.8" y2="328.5"/>
<text class="xl" x="224.3" y="336.4">WT5</text>
<line class="tm" x1="254.3" x2="254.3" y1="325.8" y2="328.5"/>
<text class="xl" x="244.1" y="336.4">WT10</text>
<line class="tm" x1="275.4" x2="275.4" y1="325.8" y2="328.5"/>
<text class="xl" x="268.0" y="336.4">WT15</text>
<line class="tm" x1="296.4" x2="296.4" y1="325.8" y2="328.5"/>
<text class="xl xi" x="291.3" y="336.4">prx0</text>
<line class="tm" x1="317.5" x2="317.5" y1="325.8" y2="328.5"/>
<text class="xl xi" x="309.7" y="336.4">prx5</text>
<line class="tm" x1="338.5" x2="338.5" y1="325.8" y2="328.5"/>
<text class="xl xi" x="327.8" y="336.4">prx10</text>
<line class="tm" x1="359.6" x2="359.6" y1="325.8" y2="328.5"/>
<text class="xl xi" x="350.0" y="336.4">prx15</text>
<text class="tt" x="207.9" y="235.7" xml:space="preserve">MEblack  24 genes</text>
</g>
<g id="p8">
<clipPath id="c8"><rect x="384.8" y="228.7" width="160.9" height="97.1"/></clipPath>
<rect class="fr" x="384.8" y="228.7" width="160.9" height="97.1"/>
<g class="g" clip-path="url(#c8)">
<path d="M391.1,283.7 412.3,287.1 433.5,289.2 454.7,268.4M475.9,266.9 497.1,262.0 518.3,259.7 539.5,252.1"/>
<path d="M391.1,293.8 412.3,281.3 433.5,279.7 454.7,276.6M475.9,270.8 497.1,262.4 518.3,251.4 539.5,248.8"/>
<path d="M391.1,282.1 412.3,271.3 433.5,282.4 454.7,269.8M475.9,261.0 497.1,264.6 518.3,252.1 539.5,241.4"/>
<path d="M391.1,276.7 412.3,278.9 433.5,284.2 454.7,267.0M475.9,272.5 497.1,261.1 518.3,251.2 539.5,246.4"/>
<path d="M391.1,283.5 412.3,281.7 433.5,285.0 454.7,283.8M475.9,275.0 497.1,271.2 518.3,254.0 539.5,248.3"/>
<path d="M391.1,289.4 412.3,277.9 433.5,281.1 454.7,280.0M475.9,267.2 497.1,262.2 518.3,252.3 539.5,252.6"/>
<path d="M391.1,284.1 412.3,281.6 433.5,276.1 454.7,273.2M475.9,261.8 497.1,263.8 518.3,258.3 539.5,240.1"/>
<path d="M391.1,284.1 412.3,280.2 433.5,291.3 454.7,281.9M475.9,268.5 497.1,264.0 518.3,254.3 539.5,256.5"/>
<path d="M391.1,276.8 412.3,283.4 433.5,277.8 454.7,277.8M475.9,267.8 497.1,268.3 518.3,257.5 539.5,249.6"/>
<path d="M391.1,274.9 412.3,271.3 433.5,286.6 454.7,275.6M475.9,256.8 497.1,266.8 518.3,256.7 539.5,247.8"/>
<path d="M391.1,284.8 412.3,280.6 433.5,274.7 454.7,277.0M475.9,270.1 497.1,260.4 518.3,255.5 539.5,240.6"/>
<path d="M391.1,281.3 412.3,275.2 433.5,285.7 454.7,278.8M475.9,261.3 497.1,265.1 518.3,254.0 539.5,244.6"/>
<path d="M391.1,287.3 412.3,274.5 433.5,283.4 454.7,278.2M475.9,264.9 497.1,267.8 518.3,251.8 539.5,259.5"/>
<path d="M391.1,282.2 412.3,281.9 433.5,289.8 454.7,271.4M475.9,273.6 497.1,269.3 518.3,265.8 539.5,252.4"/>
<path d="M391.1,286.4 412.3,276.1 433.5,291.4 454.7,277.9M475.9,264.6 497.1,260.9 518.3,254.2 539.5,246.0"/>
<path d="M391.1,285.2 412.3,286.4 433.5,281.5 454.7,276.1M475.9,274.5 497.1,269.1 518.3,256.3 539.5,259.1"/>
<path d="M391.1,282.1 412.3,278.1 433.5,278.8 454.7,267.6M475.9,270.7 497.1,265.8 518.3,261.1 539.5,248.9"/>
<path d="M391.1,279.4 412.3,271.3 433.5,275.6 454.7,269.3M475.9,262.8 497.1,261.4 518.3,254.4 539.5,236.5"/>
<path d="M391.1,289.6 412.3,276.9 433.5,278.5 454.7,274.2M475.9,259.0 497.1,260.8 518.3,250.8 539.5,241.5"/>
<path d="M391.1,288.6 412.3,280.3 433.5,296.4 454.7,277.4M475.9,269.6 497.1,267.8 518.3,265.7 539.5,263.2"/>
<path d="M391.1,294.0 412.3,289.0 433.5,294.8 454.7,283.8M475.9,268.9 497.1,263.8 518.3,256.3 539.5,258.8"/>
<path d="M391.1,285.2 412.3,290.0 433.5,282.0 454.7,280.5M475.9,277.8 497.1,266.5 518.3,265.7 539.5,259.2"/>
<path d="M391.1,281.1 412.3,273.3 433.5,289.1 454.7,268.1M475.9,270.4 497.1,266.5 518.3,250.9 539.5,249.5"/>
<path d="M391.1,286.6 412.3,278.5 433.5,288.0 454.7,270.2M475.9,270.7 497.1,261.5 518.3,249.9 539.5,247.8"/>
<path d="M391.1,287.5 412.3,275.8 433.5,280.0 454.7,276.9M475.9,259.5 497.1,260.1 518.3,249.4 539.5,245.4"/>
<path d="M391.1,283.8 412.3,278.4 433.5,288.0 454.7,269.4M475.9,257.8 497.1,262.0 518.3,247.4 539.5,252.4"/>
<path d="M391.1,284.1 412.3,284.9 433.5,283.5 454.7,271.8M475.9,262.4 497.1,265.5 518.3,258.0 539.5,255.0"/>
<path d="M391.1,286.8 412.3,283.9 433.5,290.0 454.7,272.2M475.9,266.9 497.1,266.3 518.3,261.5 539.5,246.0"/>
<path d="M391.1,283.2 412.3,277.0 433.5,275.6 454.7,271.3M475.9,258.8 497.1,261.0 518.3,251.8 539.5,244.5"/>
<path d="M391.1,290.2 412.3,282.9 433.5,290.7 454.7,268.3M475.9,261.0 497.1,263.0 518.3,258.1 539.5,250.3"/>
<path d="M391.1,275.1 412.3,281.4 433.5,290.1 454.7,277.9M475.9,267.2 497.1,260.3 518.3,248.8 539.5,248.2"/>
<path d="M391.1,287.9 412.3,283.0 433.5,286.2 454.7,268.3M475.9,263.7 497.1,259.2 518.3,245.3 539.5,239.0"/>
<path d="M391.1,296.3 412.3,290.0 433.5,289.5 454.7,279.9M475.9,277.8 497.1,270.9 518.3,266.7 539.5,249.0"/>
<path d="M391.1,280.8 412.3,273.4 433.5,275.4 454.7,275.6M475.9,262.4 497.1,266.3 518.3,250.2 539.5,241.8"/>
<path d="M391.1,322.5 412.3,281.9 433.5,283.1 454.7,275.7M475.9,267.1 497.1,265.9 518.3,257.3 539.5,251.1"/>
<path d="M391.1,315.1 412.3,285.6 433.5,286.8 454.7,278.2M475.9,268.3 497.1,267.1 518.3,258.5 539.5,252.4"/>
<path d="M391.1,308.9 412.3,279.4 433.5,284.3 454.7,274.5M475.9,265.9 497.1,264.7 518.3,254.8 539.5,248.7"/>
<path d="M391.1,304.0 412.3,297.9 433.5,292.9 454.7,281.9M475.9,269.6 497.1,268.3 518.3,259.7 539.5,253.6"/>
<path d="M391.1,289.2 412.3,288.0 433.5,310.2 454.7,290.5M475.9,270.8 497.1,267.1 518.3,258.5 539.5,252.4"/>
<path d="M391.1,272.0 412.3,268.3 433.5,272.0 454.7,254.8M475.9,254.8 497.1,258.5 518.3,242.5 539.5,233.9"/>
<path d="M391.1,274.5 412.3,270.8 433.5,273.3 454.7,261.0M475.9,257.3 497.1,259.7 518.3,245.0 539.5,236.4"/>
<path d="M391.1,285.6 412.3,280.6 433.5,284.3 454.7,275.7M475.9,292.9 497.1,269.6 518.3,268.3 539.5,262.2"/>
<path d="M391.1,283.1 412.3,281.9 433.5,283.1 454.7,274.5M475.9,285.6 497.1,274.5 518.3,270.2 539.5,259.7"/>
</g>
<polyline class="m" points="391.1,284.9 412.3,280.6 433.5,284.0 454.7,275.5"/>
<polyline class="m" points="475.9,267.1 497.1,265.8 518.3,256.7 539.5,250.3"/>
<circle class="d" cx="391.1" cy="284.9" r="1.15"/>
<circle class="d" cx="412.3" cy="280.6" r="1.15"/>
<circle class="d" cx="433.5" cy="284.0" r="1.15"/>
<circle class="d" cx="454.7" cy="275.5" r="1.15"/>
<circle class="d" cx="475.9" cy="267.1" r="1.15"/>
<circle class="d" cx="497.1" cy="265.8" r="1.15"/>
<circle class="d" cx="518.3" cy="256.7" r="1.15"/>
<circle class="d" cx="539.5" cy="250.3" r="1.15"/>
<line class="tm" x1="382.2" x2="384.8" y1="233.0" y2="233.0"/>
<text class="tk" text-anchor="end" x="380.1" y="236.0">3</text>
<line class="tm" x1="382.2" x2="384.8" y1="245.5" y2="245.5"/>
<text class="tk" text-anchor="end" x="380.1" y="248.5">2</text>
<line class="tm" x1="382.2" x2="384.8" y1="258.0" y2="258.0"/>
<text class="tk" text-anchor="end" x="380.1" y="261.0">1</text>
<line class="tm" x1="382.2" x2="384.8" y1="270.5" y2="270.5"/>
<text class="tk" text-anchor="end" x="380.1" y="273.5">0</text>
<line class="tm" x1="382.2" x2="384.8" y1="283.0" y2="283.0"/>
<text class="tk" text-anchor="end" x="380.1" y="286.0">−1</text>
<line class="tm" x1="382.2" x2="384.8" y1="295.5" y2="295.5"/>
<text class="tk" text-anchor="end" x="380.1" y="298.5">−2</text>
<line class="tm" x1="382.2" x2="384.8" y1="308.0" y2="308.0"/>
<text class="tk" text-anchor="end" x="380.1" y="311.0">−3</text>
<line class="tm" x1="382.2" x2="384.8" y1="320.5" y2="320.5"/>
<text class="tk" text-anchor="end" x="380.1" y="323.5">−4</text>
<line class="tm" x1="391.1" x2="391.1" y1="325.8" y2="328.5"/>
<text class="xl" x="383.4" y="336.3">WT0</text>
<line class="tm" x1="412.3" x2="412.3" y1="325.8" y2="328.5"/>
<text class="xl" x="402.8" y="336.3">WT5</text>
<line class="tm" x1="433.5" x2="433.5" y1="325.8" y2="328.5"/>
<text class="xl" x="422.6" y="336.3">WT10</text>
<line class="tm" x1="454.7" x2="454.7" y1="325.8" y2="328.5"/>
<text class="xl" x="446.5" y="336.3">WT15</text>
<line class="tm" x1="475.9" x2="475.9" y1="325.8" y2="328.5"/>
<text class="xl xi" x="469.8" y="336.3">prx0</text>
<line class="tm" x1="497.1" x2="497.1" y1="325.8" y2="328.5"/>
<text class="xl xi" x="488.2" y="336.3">prx5</text>
<line class="tm" x1="518.3" x2="518.3" y1="325.8" y2="328.5"/>
<text class="xl xi" x="506.3" y="336.3">prx10</text>
<line class="tm" x1="539.5" x2="539.5" y1="325.8" y2="328.5"/>
<text class="xl xi" x="528.5" y="336.3">prx15</text>
<text class="tt" x="386.1" y="235.3" xml:space="preserve">MEmagenta  43 genes</text>
</g>
</svg></body></html>
